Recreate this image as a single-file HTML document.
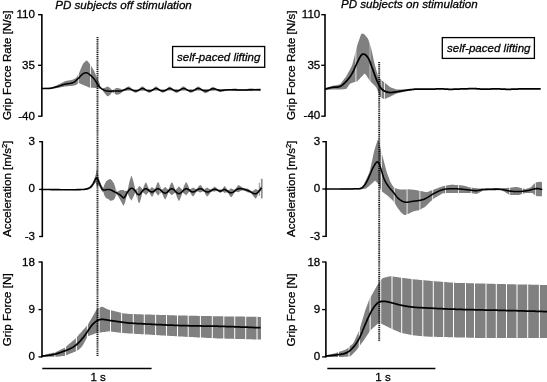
<!DOCTYPE html>
<html><head><meta charset="utf-8"><title>PD subjects grip force</title>
<style>html,body{margin:0;padding:0;background:#fff;}body{width:547px;height:382px;overflow:hidden;font-family:"Liberation Sans",Arial,Helvetica,sans-serif;}svg{display:block}</style>
</head><body>
<svg width="547" height="382" viewBox="0 0 547 382" font-family="'Liberation Sans', Arial, Helvetica, sans-serif" fill="#000">
<text x="55.2" y="8.5" font-size="11.6" text-anchor="start" stroke="#000" stroke-width="0.28" font-style="italic">PD subjects off stimulation</text>
<text x="341" y="8.1" font-size="11.6" text-anchor="start" stroke="#000" stroke-width="0.28" font-style="italic">PD subjects on stimulation</text>
<path d="M42.0,88.0 L43.0,88.0 L44.0,87.9 L45.0,87.8 L46.0,87.8 L47.0,87.8 L48.0,87.7 L49.0,87.6 L50.0,87.6 L51.0,87.3 L52.0,87.0 L53.0,86.7 L54.0,86.4 L55.0,86.1 L56.0,85.8 L57.0,85.3 L58.0,84.8 L59.0,84.3 L60.0,83.8 L61.0,83.2 L62.0,82.7 L63.0,82.2 L64.0,81.7 L65.0,81.2 L66.0,81.0 L67.0,80.8 L68.0,80.6 L69.0,80.4 L70.0,80.2 L71.0,80.0 L72.0,79.8 L73.0,79.6 L74.0,79.1 L75.0,78.5 L76.0,78.0 L77.0,76.5 L78.0,75.0 L79.0,73.2 L80.0,70.8 L81.0,68.3 L82.0,65.9 L83.0,63.8 L84.0,62.8 L85.0,61.8 L86.0,60.8 L87.0,60.6 L88.0,61.7 L89.0,62.8 L90.0,64.2 L91.0,65.8 L92.0,67.5 L93.0,69.1 L94.0,70.7 L95.0,72.9 L96.0,75.4 L97.0,77.9 L98.0,80.3 L99.0,82.1 L100.0,84.0 L100.0,89.5 L99.0,88.0 L98.0,88.0 L97.0,87.9 L96.0,87.9 L95.0,87.9 L94.0,87.8 L93.0,87.8 L92.0,87.7 L91.0,87.7 L90.0,87.6 L89.0,87.4 L88.0,87.0 L87.0,86.6 L86.0,86.1 L85.0,85.7 L84.0,85.3 L83.0,84.8 L82.0,84.4 L81.0,84.0 L80.0,83.6 L79.0,83.1 L78.0,83.5 L77.0,84.3 L76.0,85.0 L75.0,85.3 L74.0,85.5 L73.0,85.8 L72.0,85.9 L71.0,86.0 L70.0,86.1 L69.0,86.1 L68.0,86.2 L67.0,86.3 L66.0,86.4 L65.0,86.5 L64.0,86.6 L63.0,86.9 L62.0,87.1 L61.0,87.3 L60.0,87.5 L59.0,87.7 L58.0,87.9 L57.0,88.1 L56.0,88.3 L55.0,88.4 L54.0,88.5 L53.0,88.6 L52.0,88.8 L51.0,88.9 L50.0,89.0 L49.0,89.0 L48.0,88.9 L47.0,88.8 L46.0,88.8 L45.0,88.8 L44.0,88.7 L43.0,88.6 L42.0,88.6Z" fill="#808080"/>
<path d="M100.0,86.8 L100.5,87.2 L101.0,87.5 L101.5,87.8 L102.0,88.0 L102.5,88.3 L103.0,88.2 L103.5,88.1 L104.0,88.0 L104.5,87.9 L105.0,87.7 L105.5,87.5 L106.0,87.3 L106.5,87.0 L107.0,86.8 L107.5,86.5 L108.0,86.8 L108.5,87.0 L109.0,87.3 L109.5,87.6 L110.0,87.9 L110.5,88.4 L111.0,88.9 L111.5,89.4 L112.0,90.0 L112.5,90.2 L113.0,89.9 L113.5,89.5 L114.0,89.2 L114.5,88.8 L115.0,88.6 L115.5,88.4 L116.0,88.2 L116.5,88.1 L117.0,87.9 L117.5,87.9 L118.0,88.1 L118.5,88.2 L119.0,88.3 L119.5,88.4 L120.0,88.6 L120.5,88.8 L121.0,89.0 L121.5,89.2 L122.0,89.4 L122.5,89.5 L123.0,89.6 L123.5,89.3 L124.0,88.9 L124.5,88.6 L125.0,88.3 L125.5,88.0 L126.0,87.7 L126.5,87.3 L127.0,87.0 L127.5,86.8 L128.0,86.6 L128.5,86.4 L129.0,86.5 L129.5,86.8 L130.0,87.2 L130.5,87.6 L131.0,88.0 L131.5,88.5 L132.0,89.0 L132.5,89.2 L133.0,89.3 L133.5,89.4 L134.0,89.5 L134.5,89.5 L135.0,89.4 L135.5,89.3 L136.0,89.4 L136.5,89.5 L137.0,89.5 L137.5,89.5 L138.0,89.5 L138.5,89.4 L139.0,89.2 L139.5,88.7 L140.0,88.1 L140.5,87.6 L141.0,87.1 L141.5,86.8 L142.0,86.5 L142.5,86.3 L143.0,86.6 L143.5,86.9 L144.0,87.3 L144.5,87.7 L145.0,88.2 L145.5,88.7 L146.0,89.1 L146.5,89.3 L147.0,89.4 L147.5,89.4 L148.0,89.4 L148.5,89.3 L149.0,89.2 L149.5,89.3 L150.0,89.4 L150.5,89.4 L151.0,89.5 L151.5,89.5 L152.0,89.4 L152.5,89.2 L153.0,88.8 L153.5,88.3 L154.0,87.8 L154.5,87.3 L155.0,86.9 L155.5,86.6 L156.0,86.4 L156.5,86.6 L157.0,86.9 L157.5,87.2 L158.0,87.7 L158.5,88.2 L159.0,88.7 L159.5,89.1 L160.0,89.3 L160.5,89.4 L161.0,89.5 L161.5,89.5 L162.0,89.4 L162.5,89.4 L163.0,89.3 L163.5,89.5 L164.0,89.5 L164.5,89.5 L165.0,89.5 L165.5,89.4 L166.0,89.3 L166.5,88.9 L167.0,88.4 L167.5,87.9 L168.0,87.5 L168.5,87.1 L169.0,86.8 L169.5,86.5 L170.0,86.7 L170.5,86.9 L171.0,87.2 L171.5,87.6 L172.0,88.1 L172.5,88.5 L173.0,89.0 L173.5,89.2 L174.0,89.3 L174.5,89.3 L175.0,89.3 L175.5,89.3 L176.0,89.2 L176.5,89.1 L177.0,89.2 L177.5,89.3 L178.0,89.4 L178.5,89.4 L179.0,89.4 L179.5,89.3 L180.0,89.2 L180.5,88.7 L181.0,88.1 L181.5,87.6 L182.0,87.2 L182.5,86.8 L183.0,86.6 L183.5,86.4 L184.0,86.6 L184.5,86.9 L185.0,87.2 L185.5,87.6 L186.0,88.1 L186.5,88.5 L187.0,89.0 L187.5,89.2 L188.0,89.3 L188.5,89.4 L189.0,89.4 L189.5,89.4 L190.0,89.3 L190.5,89.3 L191.0,89.2 L191.5,89.3 L192.0,89.4 L192.5,89.5 L193.0,89.5 L193.5,89.4 L194.0,89.4 L194.5,89.2 L195.0,88.7 L195.5,88.3 L196.0,87.8 L196.5,87.4 L197.0,87.0 L197.5,86.7 L198.0,86.5 L198.5,86.5 L199.0,86.7 L199.5,87.0 L200.0,87.4 L200.5,87.8 L201.0,88.2 L201.5,88.7 L202.0,89.1 L202.5,89.1 L203.0,89.2 L203.5,89.2 L204.0,89.2 L204.5,89.1 L205.0,89.0 L205.5,88.9 L206.0,89.0 L206.5,89.1 L207.0,89.2 L207.5,89.2 L208.0,89.3 L208.5,89.3 L209.0,89.3 L209.5,89.1 L210.0,88.7 L210.5,88.3 L211.0,87.9 L211.5,87.5 L212.0,87.2 L212.5,87.0 L213.0,86.8 L213.5,87.0 L214.0,87.2 L214.5,87.4 L215.0,87.7 L215.5,88.1 L216.0,88.4 L216.5,88.7 L217.0,88.8 L217.5,88.9 L218.0,89.0 L218.5,89.0 L219.0,89.0 L219.5,89.0 L220.0,89.0 L220.5,89.1 L221.0,89.2 L221.5,89.2 L222.0,89.2 L222.5,89.2 L223.0,89.1 L223.5,89.1 L224.0,89.1 L224.5,89.1 L225.0,89.0 L225.5,89.0 L226.0,89.0 L226.5,89.0 L227.0,89.0 L227.5,89.0 L228.0,89.0 L228.5,89.0 L229.0,89.0 L229.5,89.0 L230.0,88.9 L230.5,88.9 L231.0,88.9 L231.5,88.9 L232.0,88.8 L232.5,88.8 L233.0,88.7 L233.5,88.7 L234.0,88.7 L234.5,88.6 L235.0,88.6 L235.5,88.6 L236.0,88.7 L236.5,88.8 L237.0,88.8 L237.5,88.9 L238.0,88.9 L238.5,89.0 L239.0,89.1 L239.5,89.1 L240.0,89.2 L240.5,89.2 L241.0,89.2 L241.5,89.2 L242.0,89.3 L242.5,89.3 L243.0,89.3 L243.5,89.3 L244.0,89.2 L244.5,89.2 L245.0,89.2 L245.5,89.1 L246.0,89.1 L246.5,89.0 L247.0,89.0 L247.5,88.9 L248.0,88.8 L248.5,88.7 L249.0,88.7 L249.5,88.6 L250.0,88.5 L250.5,88.5 L251.0,88.4 L251.5,88.5 L252.0,88.5 L252.5,88.6 L253.0,88.7 L253.5,88.7 L254.0,88.7 L254.5,88.8 L255.0,88.8 L255.5,88.9 L256.0,88.8 L256.5,88.8 L257.0,88.8 L257.5,88.7 L258.0,88.7 L258.5,88.6 L259.0,88.5 L259.5,88.5 L260.0,88.4 L260.5,88.3 L260.5,91.3 L260.0,91.2 L259.5,91.1 L259.0,91.0 L258.5,90.9 L258.0,90.9 L257.5,90.8 L257.0,90.7 L256.5,90.7 L256.0,90.6 L255.5,90.6 L255.0,90.6 L254.5,90.7 L254.0,90.7 L253.5,90.8 L253.0,90.8 L252.5,90.9 L252.0,91.0 L251.5,91.1 L251.0,91.2 L250.5,91.2 L250.0,91.1 L249.5,91.1 L249.0,91.1 L248.5,91.1 L248.0,91.1 L247.5,91.0 L247.0,91.0 L246.5,91.0 L246.0,91.0 L245.5,91.0 L245.0,91.1 L244.5,91.1 L244.0,91.0 L243.5,91.0 L243.0,91.0 L242.5,91.0 L242.0,91.0 L241.5,91.0 L241.0,91.0 L240.5,91.0 L240.0,91.0 L239.5,91.0 L239.0,91.0 L238.5,91.0 L238.0,91.0 L237.5,91.0 L237.0,91.1 L236.5,91.1 L236.0,91.1 L235.5,91.1 L235.0,91.2 L234.5,91.1 L234.0,91.1 L233.5,91.0 L233.0,91.0 L232.5,90.9 L232.0,90.9 L231.5,90.8 L231.0,90.8 L230.5,90.8 L230.0,90.8 L229.5,90.8 L229.0,90.8 L228.5,90.8 L228.0,90.8 L227.5,90.8 L227.0,90.8 L226.5,90.9 L226.0,90.9 L225.5,91.0 L225.0,91.1 L224.5,91.2 L224.0,91.3 L223.5,91.4 L223.0,91.5 L222.5,91.6 L222.0,91.7 L221.5,91.8 L221.0,91.9 L220.5,92.0 L220.0,92.0 L219.5,91.9 L219.0,91.7 L218.5,91.5 L218.0,91.2 L217.5,91.0 L217.0,90.7 L216.5,90.5 L216.0,90.4 L215.5,90.4 L215.0,90.5 L214.5,90.6 L214.0,90.6 L213.5,90.7 L213.0,90.9 L212.5,90.8 L212.0,90.7 L211.5,90.8 L211.0,90.8 L210.5,90.9 L210.0,90.9 L209.5,91.0 L209.0,91.3 L208.5,91.7 L208.0,92.0 L207.5,92.4 L207.0,92.6 L206.5,92.9 L206.0,93.1 L205.5,93.2 L205.0,93.0 L204.5,92.8 L204.0,92.5 L203.5,92.2 L203.0,91.8 L202.5,91.3 L202.0,90.9 L201.5,90.7 L201.0,90.7 L200.5,90.6 L200.0,90.6 L199.5,90.5 L199.0,90.6 L198.5,90.6 L198.0,90.7 L197.5,90.6 L197.0,90.6 L196.5,90.6 L196.0,90.7 L195.5,90.8 L195.0,90.9 L194.5,90.9 L194.0,91.3 L193.5,91.7 L193.0,92.0 L192.5,92.2 L192.0,92.5 L191.5,92.6 L191.0,92.8 L190.5,92.8 L190.0,92.6 L189.5,92.4 L189.0,92.1 L188.5,91.8 L188.0,91.5 L187.5,91.1 L187.0,90.8 L186.5,90.7 L186.0,90.6 L185.5,90.6 L185.0,90.6 L184.5,90.5 L184.0,90.6 L183.5,90.7 L183.0,90.6 L182.5,90.6 L182.0,90.6 L181.5,90.7 L181.0,90.8 L180.5,90.8 L180.0,90.9 L179.5,91.3 L179.0,91.7 L178.5,92.1 L178.0,92.4 L177.5,92.6 L177.0,92.8 L176.5,93.0 L176.0,92.8 L175.5,92.6 L175.0,92.3 L174.5,92.0 L174.0,91.6 L173.5,91.2 L173.0,90.8 L172.5,90.7 L172.0,90.6 L171.5,90.5 L171.0,90.5 L170.5,90.4 L170.0,90.5 L169.5,90.6 L169.0,90.5 L168.5,90.5 L168.0,90.5 L167.5,90.6 L167.0,90.8 L166.5,90.9 L166.0,91.1 L165.5,91.5 L165.0,91.8 L164.5,92.1 L164.0,92.3 L163.5,92.5 L163.0,92.7 L162.5,92.6 L162.0,92.5 L161.5,92.2 L161.0,92.0 L160.5,91.6 L160.0,91.3 L159.5,90.9 L159.0,90.7 L158.5,90.7 L158.0,90.6 L157.5,90.6 L157.0,90.5 L156.5,90.6 L156.0,90.7 L155.5,90.6 L155.0,90.6 L154.5,90.6 L154.0,90.7 L153.5,90.8 L153.0,90.9 L152.5,91.0 L152.0,91.4 L151.5,91.8 L151.0,92.1 L150.5,92.4 L150.0,92.6 L149.5,92.8 L149.0,92.8 L148.5,92.6 L148.0,92.4 L147.5,92.1 L147.0,91.8 L146.5,91.4 L146.0,91.0 L145.5,90.8 L145.0,90.7 L144.5,90.7 L144.0,90.7 L143.5,90.6 L143.0,90.7 L142.5,90.8 L142.0,90.7 L141.5,90.7 L141.0,90.7 L140.5,90.8 L140.0,90.8 L139.5,90.9 L139.0,90.9 L138.5,91.3 L138.0,91.7 L137.5,92.0 L137.0,92.2 L136.5,92.4 L136.0,92.6 L135.5,92.7 L135.0,92.6 L134.5,92.4 L134.0,92.1 L133.5,91.8 L133.0,91.5 L132.5,91.1 L132.0,90.8 L131.5,90.7 L131.0,90.7 L130.5,90.7 L130.0,90.6 L129.5,90.6 L129.0,90.7 L128.5,90.7 L128.0,90.6 L127.5,90.6 L127.0,90.7 L126.5,90.8 L126.0,90.9 L125.5,91.0 L125.0,91.1 L124.5,91.1 L124.0,91.2 L123.5,91.3 L123.0,91.3 L122.5,91.8 L122.0,92.3 L121.5,92.7 L121.0,93.1 L120.5,93.5 L120.0,93.9 L119.5,94.1 L119.0,94.3 L118.5,94.5 L118.0,94.6 L117.5,94.8 L117.0,94.8 L116.5,94.6 L116.0,94.4 L115.5,94.2 L115.0,94.0 L114.5,93.7 L114.0,93.3 L113.5,92.9 L113.0,92.5 L112.5,92.2 L112.0,92.5 L111.5,93.1 L111.0,93.8 L110.5,94.4 L110.0,95.0 L109.5,95.3 L109.0,95.6 L108.5,95.9 L108.0,96.1 L107.5,96.4 L107.0,95.9 L106.5,95.4 L106.0,94.9 L105.5,94.3 L105.0,93.7 L104.5,93.1 L104.0,92.5 L103.5,91.8 L103.0,91.1 L102.5,90.4 L102.0,90.0 L101.5,89.5 L101.0,89.0 L100.5,88.5 L100.0,87.9Z" fill="#808080"/>
<rect x="77.90" y="55" width="0.8" height="45" fill="#fff"/>
<rect x="90.00" y="55" width="0.8" height="45" fill="#fff"/>
<rect x="102.20" y="80" width="0.6" height="20" fill="#fff"/>
<rect x="114.30" y="80" width="0.6" height="20" fill="#fff"/>
<path d="M41.5,88.4 L42.0,88.4 L42.5,88.4 L43.0,88.4 L43.5,88.4 L44.0,88.5 L44.5,88.5 L45.0,88.5 L45.5,88.5 L45.9,88.5 L46.4,88.5 L46.9,88.5 L47.4,88.5 L47.9,88.5 L48.4,88.5 L48.9,88.5 L49.4,88.4 L49.9,88.4 L50.4,88.3 L50.8,88.3 L51.3,88.2 L51.8,88.1 L52.3,88.0 L52.7,87.9 L53.2,87.7 L53.7,87.6 L54.1,87.5 L54.6,87.3 L55.1,87.2 L55.6,87.1 L56.0,86.9 L56.5,86.8 L57.0,86.7 L57.5,86.5 L57.9,86.4 L58.4,86.2 L58.9,86.1 L59.4,85.9 L59.9,85.8 L60.4,85.6 L60.8,85.4 L61.3,85.3 L61.8,85.1 L62.3,85.0 L62.8,84.8 L63.3,84.7 L63.7,84.6 L64.2,84.4 L64.7,84.3 L65.2,84.2 L65.7,84.1 L66.2,84.0 L66.7,83.9 L67.1,83.8 L67.6,83.8 L68.1,83.7 L68.6,83.7 L69.1,83.6 L69.6,83.5 L70.1,83.4 L70.6,83.3 L71.0,83.2 L71.5,83.1 L72.0,83.0 L72.5,82.8 L73.0,82.6 L73.5,82.4 L74.0,82.1 L74.5,81.8 L75.0,81.4 L75.5,81.0 L75.9,80.6 L76.4,80.1 L76.9,79.7 L77.4,79.2 L77.9,78.8 L78.4,78.3 L78.9,77.9 L79.4,77.3 L79.9,76.8 L80.3,76.3 L80.8,75.7 L81.3,75.2 L81.8,74.7 L82.3,74.3 L82.8,73.9 L83.3,73.6 L83.7,73.3 L84.2,73.1 L84.7,72.9 L85.2,72.8 L85.6,72.7 L86.1,72.7 L86.6,72.8 L87.0,72.9 L87.5,73.1 L88.0,73.4 L88.5,73.7 L88.9,74.0 L89.4,74.4 L89.9,74.8 L90.4,75.2 L90.9,75.7 L91.4,76.1 L91.9,76.6 L92.4,77.1 L92.9,77.6 L93.4,78.1 L93.9,78.7 L94.4,79.3 L94.9,79.9 L95.3,80.7 L95.8,81.5 L96.3,82.3 L96.8,83.2 L97.2,83.9 L97.7,84.6 L98.2,85.2 L98.7,85.8 L99.1,86.4 L99.6,86.9 L100.1,87.4 L100.5,87.8 L101.0,88.2 L101.5,88.6 L102.0,88.9 L102.5,89.3 L103.0,89.6 L103.5,89.8 L104.0,90.1 L104.4,90.3 L104.9,90.5 L105.4,90.6 L105.9,90.8 L106.4,90.9 L106.9,91.0 L107.4,91.1 L107.8,91.1 L108.3,91.1 L108.8,91.2 L109.2,91.2 L109.7,91.2 L110.2,91.2 L110.7,91.2 L111.2,91.2 L111.6,91.2 L112.1,91.1 L112.6,91.1 L113.0,91.1 L113.5,91.1 L114.0,91.1 L114.5,91.1 L115.0,91.1 L115.4,91.1 L115.9,91.1 L116.4,91.1 L116.9,91.1 L117.4,91.1 L117.8,91.1 L118.3,91.1 L118.8,91.1 L119.3,91.1 L119.8,91.0 L120.2,91.0 L120.7,91.0 L121.2,90.9 L121.7,90.8 L122.2,90.7 L122.6,90.5 L123.1,90.3 L123.6,90.2 L124.0,90.0 L124.5,89.8 L125.0,89.6 L125.5,89.4 L125.9,89.2 L126.4,89.0 L126.8,88.8 L127.3,88.6 L127.8,88.5 L128.2,88.4 L128.7,88.4 L129.2,88.5 L129.7,88.6 L130.2,88.9 L130.7,89.1 L131.2,89.4 L131.7,89.6 L132.2,89.9 L132.6,90.2 L133.1,90.4 L133.6,90.6 L134.1,90.7 L134.5,90.8 L134.9,90.9 L135.4,90.9 L135.8,90.9 L136.3,90.9 L136.7,90.8 L137.1,90.8 L137.6,90.6 L138.0,90.5 L138.5,90.3 L139.0,90.0 L139.5,89.7 L140.0,89.4 L140.5,89.1 L140.9,88.8 L141.4,88.6 L141.9,88.4 L142.4,88.4 L142.9,88.5 L143.4,88.6 L143.9,88.8 L144.4,89.0 L144.8,89.3 L145.3,89.6 L145.8,89.9 L146.3,90.2 L146.8,90.4 L147.3,90.6 L147.7,90.7 L148.2,90.8 L148.6,90.9 L149.0,90.9 L149.5,90.9 L149.9,90.9 L150.3,90.8 L150.8,90.8 L151.2,90.6 L151.6,90.5 L152.1,90.3 L152.6,90.0 L153.1,89.7 L153.6,89.4 L154.1,89.1 L154.5,88.8 L155.0,88.6 L155.5,88.4 L156.0,88.4 L156.5,88.5 L157.0,88.6 L157.5,88.8 L158.0,89.0 L158.4,89.3 L158.9,89.6 L159.4,89.9 L159.9,90.2 L160.4,90.4 L160.9,90.6 L161.3,90.7 L161.8,90.8 L162.2,90.9 L162.6,90.9 L163.1,90.9 L163.5,90.9 L163.9,90.8 L164.4,90.8 L164.8,90.6 L165.2,90.5 L165.7,90.3 L166.2,90.0 L166.7,89.7 L167.2,89.4 L167.7,89.1 L168.1,88.8 L168.6,88.6 L169.1,88.4 L169.6,88.4 L170.1,88.5 L170.6,88.6 L171.1,88.8 L171.6,89.0 L172.1,89.3 L172.6,89.6 L173.1,89.9 L173.6,90.2 L174.1,90.4 L174.6,90.6 L175.0,90.7 L175.5,90.8 L175.9,90.9 L176.3,90.9 L176.8,90.9 L177.2,90.9 L177.7,90.8 L178.1,90.8 L178.5,90.6 L179.0,90.5 L179.5,90.3 L180.0,90.0 L180.5,89.7 L180.9,89.4 L181.4,89.1 L181.9,88.8 L182.4,88.6 L182.9,88.4 L183.4,88.4 L183.9,88.4 L184.4,88.6 L184.9,88.7 L185.3,88.9 L185.8,89.2 L186.3,89.4 L186.8,89.7 L187.3,90.0 L187.8,90.2 L188.2,90.4 L188.7,90.6 L189.2,90.7 L189.7,90.8 L190.1,90.9 L190.6,90.9 L191.1,90.9 L191.6,90.9 L192.0,90.8 L192.5,90.8 L193.0,90.6 L193.5,90.5 L193.9,90.3 L194.4,90.1 L194.9,89.8 L195.4,89.5 L195.8,89.2 L196.3,89.0 L196.8,88.7 L197.3,88.6 L197.7,88.4 L198.2,88.4 L198.7,88.4 L199.2,88.6 L199.7,88.7 L200.1,88.9 L200.6,89.2 L201.1,89.4 L201.6,89.7 L202.1,90.0 L202.6,90.2 L203.0,90.4 L203.5,90.6 L204.0,90.7 L204.5,90.8 L204.9,90.9 L205.4,90.9 L205.9,90.9 L206.4,90.9 L206.8,90.8 L207.3,90.7 L207.8,90.6 L208.3,90.5 L208.7,90.3 L209.2,90.1 L209.7,89.9 L210.2,89.7 L210.6,89.4 L211.1,89.2 L211.6,89.0 L212.1,88.8 L212.5,88.7 L213.0,88.7 L213.5,88.7 L214.0,88.8 L214.4,88.9 L214.9,89.0 L215.4,89.1 L215.9,89.3 L216.3,89.5 L216.8,89.6 L217.3,89.8 L217.8,90.0 L218.3,90.1 L218.7,90.2 L219.2,90.3 L219.7,90.4 L220.2,90.4 L220.7,90.4 L221.2,90.4 L221.6,90.4 L222.1,90.3 L222.6,90.3 L223.1,90.2 L223.6,90.2 L224.1,90.1 L224.5,90.0 L225.0,90.0 L225.5,89.9 L226.0,89.9 L226.5,89.9 L227.0,89.9 L227.5,89.8 L228.0,89.8 L228.5,89.8 L229.0,89.8 L229.5,89.8 L230.0,89.8 L230.5,89.8 L231.0,89.8 L231.5,89.8 L232.0,89.8 L232.5,89.8 L233.0,89.8 L233.5,89.8 L234.0,89.8 L234.5,89.8 L235.0,89.8 L235.5,89.8 L236.0,89.8 L236.5,89.8 L237.0,89.9 L237.5,89.9 L238.0,89.9 L238.5,89.9 L239.0,90.0 L239.5,90.0 L240.0,90.0 L240.5,90.0 L241.0,90.1 L241.5,90.1 L242.0,90.1 L242.5,90.1 L243.0,90.1 L243.5,90.1 L244.0,90.1 L244.5,90.1 L245.0,90.0 L245.5,90.0 L246.0,90.0 L246.5,90.0 L247.0,89.9 L247.5,89.9 L248.0,89.8 L248.5,89.8 L249.0,89.8 L249.5,89.8 L250.0,89.7 L250.5,89.7 L251.0,89.7 L251.5,89.7 L252.0,89.7 L252.5,89.7 L253.0,89.7 L253.5,89.7 L254.0,89.7 L254.5,89.7 L255.0,89.7 L255.5,89.7 L256.0,89.7 L256.5,89.7 L257.0,89.7 L257.5,89.7 L258.0,89.7 L258.5,89.7 L259.0,89.7 L259.5,89.7 L260.0,89.7 L260.5,89.7" fill="none" stroke="#000" stroke-width="1.5" stroke-linejoin="round" stroke-linecap="butt"/>
<path d="M60.0,189.4 L60.5,189.4 L61.0,189.3 L61.5,189.3 L62.0,189.3 L62.5,189.3 L63.0,189.3 L63.5,189.3 L64.0,189.3 L64.5,189.3 L65.0,189.3 L65.5,189.3 L66.0,189.3 L66.5,189.3 L67.0,189.3 L67.5,189.3 L68.0,189.3 L68.5,189.3 L69.0,189.3 L69.5,189.3 L70.0,189.3 L70.5,189.3 L71.0,189.3 L71.5,189.3 L72.0,189.2 L72.5,189.2 L73.0,189.2 L73.5,189.2 L74.0,189.2 L74.5,189.2 L75.0,189.2 L75.5,189.2 L76.0,189.2 L76.5,189.1 L77.0,189.1 L77.5,189.1 L78.0,189.1 L78.5,189.1 L79.0,189.1 L79.5,189.0 L80.0,189.0 L80.5,189.0 L81.0,189.0 L81.5,189.0 L82.0,189.0 L82.5,188.9 L83.0,188.9 L83.5,188.9 L84.0,188.8 L84.5,188.7 L85.0,188.6 L85.5,188.4 L86.0,188.3 L86.5,188.1 L87.0,187.9 L87.5,187.7 L88.0,187.4 L88.5,187.2 L89.0,186.9 L89.5,186.6 L90.0,186.2 L90.5,185.7 L91.0,185.1 L91.5,184.5 L92.0,183.8 L92.5,183.0 L93.0,182.1 L93.5,181.1 L94.0,179.9 L94.5,178.3 L95.0,176.7 L95.5,175.3 L96.0,173.4 L96.5,170.8 L97.0,168.7 L97.5,171.5 L98.0,174.7 L98.5,177.0 L99.0,178.7 L99.5,180.2 L100.0,181.4 L100.5,182.8 L101.0,184.1 L101.5,185.3 L102.0,186.3 L102.5,187.1 L103.0,187.6 L103.5,187.5 L104.0,185.5 L104.5,184.6 L105.0,183.6 L105.5,182.6 L106.0,181.5 L106.5,181.1 L107.0,180.7 L107.5,180.3 L108.0,179.9 L108.5,179.6 L109.0,179.4 L109.5,179.2 L110.0,179.0 L110.5,178.9 L111.0,179.5 L111.5,180.0 L112.0,180.6 L112.5,181.3 L113.0,181.9 L113.5,182.5 L114.0,183.5 L114.5,184.9 L115.0,186.3 L115.5,187.7 L116.0,189.1 L116.5,190.5 L117.0,191.9 L117.5,191.6 L118.0,191.3 L118.5,191.0 L119.0,190.7 L119.5,190.5 L120.0,190.2 L120.5,190.0 L121.0,189.9 L121.5,189.9 L122.0,190.0 L122.5,190.1 L123.0,190.1 L123.5,189.8 L124.0,190.6 L124.5,190.9 L125.0,191.0 L125.5,190.8 L126.0,190.8 L126.5,190.7 L127.0,190.8 L127.5,190.8 L128.0,188.4 L128.5,186.1 L129.0,183.8 L129.5,181.6 L130.0,179.8 L130.5,178.2 L131.0,176.6 L131.5,175.7 L132.0,177.0 L132.5,178.4 L133.0,180.0 L133.5,181.8 L134.0,184.0 L134.5,186.1 L135.0,188.3 L135.5,189.8 L136.0,189.3 L136.5,189.0 L137.0,188.5 L137.5,188.1 L138.0,187.7 L138.5,187.1 L139.0,186.3 L139.5,186.0 L140.0,186.6 L140.5,187.1 L141.0,187.5 L141.5,188.1 L142.0,188.7 L142.5,189.4 L143.0,188.5 L143.5,187.2 L144.0,185.9 L144.5,184.7 L145.0,183.6 L145.5,182.7 L146.0,182.3 L146.5,183.3 L147.0,184.3 L147.5,185.5 L148.0,186.8 L148.5,188.1 L149.0,189.3 L149.5,189.0 L150.0,188.7 L150.5,188.4 L151.0,188.0 L151.5,187.6 L152.0,187.0 L152.5,187.6 L153.0,188.0 L153.5,188.3 L154.0,188.6 L154.5,188.8 L155.0,189.1 L155.5,187.8 L156.0,186.4 L156.5,185.0 L157.0,183.8 L157.5,182.8 L158.0,181.9 L158.5,182.4 L159.0,183.3 L159.5,184.3 L160.0,185.5 L160.5,186.8 L161.0,188.1 L161.5,189.4 L162.0,189.6 L162.5,189.2 L163.0,188.9 L163.5,188.4 L164.0,188.0 L164.5,187.5 L165.0,187.0 L165.5,187.1 L166.0,187.7 L166.5,188.2 L167.0,188.6 L167.5,189.0 L168.0,189.4 L168.5,189.7 L169.0,188.3 L169.5,186.9 L170.0,185.6 L170.5,184.4 L171.0,183.3 L171.5,182.4 L172.0,182.2 L172.5,183.1 L173.0,184.1 L173.5,185.1 L174.0,186.4 L174.5,187.7 L175.0,189.1 L175.5,189.9 L176.0,189.4 L176.5,188.9 L177.0,188.4 L177.5,187.9 L178.0,187.3 L178.5,186.7 L179.0,186.2 L179.5,187.0 L180.0,187.6 L180.5,188.1 L181.0,188.6 L181.5,189.1 L182.0,189.6 L182.5,190.1 L183.0,188.8 L183.5,187.4 L184.0,186.1 L184.5,185.0 L185.0,183.9 L185.5,182.9 L186.0,182.1 L186.5,182.5 L187.0,183.3 L187.5,184.3 L188.0,185.3 L188.5,186.5 L189.0,187.7 L189.5,189.0 L190.0,189.0 L190.5,188.9 L191.0,188.8 L191.5,188.6 L192.0,188.3 L192.5,187.9 L193.0,187.4 L193.5,187.8 L194.0,188.1 L194.5,188.4 L195.0,188.6 L195.5,188.8 L196.0,188.9 L196.5,189.1 L197.0,188.5 L197.5,187.9 L198.0,187.2 L198.5,186.6 L199.0,186.0 L199.5,185.4 L200.0,184.9 L200.5,185.0 L201.0,185.5 L201.5,186.1 L202.0,186.8 L202.5,187.4 L203.0,188.1 L203.5,188.8 L204.0,189.0 L204.5,188.9 L205.0,188.8 L205.5,188.6 L206.0,188.3 L206.5,188.0 L207.0,187.6 L207.5,187.7 L208.0,188.1 L208.5,188.4 L209.0,188.7 L209.5,189.0 L210.0,189.2 L210.5,189.3 L211.0,189.5 L211.5,189.1 L212.0,188.7 L212.5,188.3 L213.0,187.9 L213.5,187.5 L214.0,187.1 L214.5,186.7 L215.0,186.8 L215.5,187.2 L216.0,187.7 L216.5,188.1 L217.0,188.5 L217.5,188.9 L218.0,189.2 L218.5,189.4 L219.0,189.6 L219.5,189.5 L220.0,189.4 L220.5,189.3 L221.0,189.5 L221.5,189.6 L222.0,189.4 L222.5,189.0 L223.0,188.2 L223.5,187.4 L224.0,186.6 L224.5,185.9 L225.0,186.4 L225.5,187.1 L226.0,187.7 L226.5,188.4 L227.0,189.0 L227.5,189.7 L228.0,190.1 L228.5,189.9 L229.0,189.7 L229.5,189.5 L230.0,189.2 L230.5,188.8 L231.0,188.3 L231.5,188.5 L232.0,188.9 L232.5,189.1 L233.0,189.3 L233.5,189.4 L234.0,189.5 L234.5,189.6 L235.0,189.4 L235.5,188.7 L236.0,188.0 L236.5,187.4 L237.0,186.8 L237.5,186.1 L238.0,185.6 L238.5,185.1 L239.0,185.3 L239.5,185.6 L240.0,185.9 L240.5,186.2 L241.0,186.6 L241.5,186.8 L242.0,187.2 L242.5,187.5 L243.0,187.8 L243.5,188.0 L244.0,188.1 L244.5,188.2 L245.0,188.4 L245.5,188.5 L246.0,188.4 L246.5,188.4 L247.0,188.4 L247.5,188.4 L248.0,188.7 L248.5,189.1 L249.0,189.5 L249.5,189.9 L250.0,190.3 L250.5,190.6 L251.0,190.9 L251.5,191.2 L252.0,191.2 L252.5,191.0 L253.0,190.8 L253.5,190.5 L254.0,190.2 L254.5,189.9 L255.0,189.5 L255.5,189.0 L256.0,188.9 L256.5,189.3 L257.0,189.7 L257.5,189.9 L258.0,190.1 L258.5,190.2 L259.0,189.7 L259.5,188.8 L260.0,188.0 L260.5,187.0 L261.0,186.0 L261.5,185.1 L261.5,190.9 L261.0,191.1 L260.5,191.3 L260.0,191.6 L259.5,192.0 L259.0,192.4 L258.5,193.1 L258.0,194.3 L257.5,195.5 L257.0,196.5 L256.5,197.5 L256.0,198.4 L255.5,198.5 L255.0,198.0 L254.5,197.5 L254.0,196.9 L253.5,196.3 L253.0,195.6 L252.5,194.9 L252.0,194.2 L251.5,193.6 L251.0,193.3 L250.5,193.0 L250.0,192.8 L249.5,192.5 L249.0,192.5 L248.5,192.4 L248.0,192.4 L247.5,192.3 L247.0,192.0 L246.5,191.7 L246.0,191.4 L245.5,191.1 L245.0,190.8 L244.5,190.7 L244.0,190.5 L243.5,190.4 L243.0,190.3 L242.5,190.4 L242.0,190.5 L241.5,190.6 L241.0,190.8 L240.5,191.0 L240.0,191.3 L239.5,191.6 L239.0,191.9 L238.5,192.3 L238.0,192.0 L237.5,191.9 L237.0,191.8 L236.5,191.7 L236.0,191.8 L235.5,191.9 L235.0,192.0 L234.5,192.5 L234.0,193.4 L233.5,194.2 L233.0,194.9 L232.5,195.7 L232.0,196.4 L231.5,197.0 L231.0,197.3 L230.5,196.7 L230.0,196.0 L229.5,195.3 L229.0,194.5 L228.5,193.7 L228.0,192.9 L227.5,192.5 L227.0,192.4 L226.5,192.4 L226.0,192.4 L225.5,192.6 L225.0,192.8 L224.5,193.1 L224.0,192.5 L223.5,191.9 L223.0,191.7 L222.5,191.5 L222.0,191.8 L221.5,192.1 L221.0,192.6 L220.5,193.1 L220.0,192.9 L219.5,192.6 L219.0,192.1 L218.5,191.9 L218.0,191.6 L217.5,191.3 L217.0,191.2 L216.5,191.1 L216.0,191.1 L215.5,191.3 L215.0,191.6 L214.5,191.7 L214.0,191.5 L213.5,191.4 L213.0,191.3 L212.5,191.4 L212.0,191.5 L211.5,191.7 L211.0,191.9 L210.5,192.5 L210.0,193.2 L209.5,193.9 L209.0,194.6 L208.5,195.2 L208.0,195.8 L207.5,196.3 L207.0,196.4 L206.5,195.8 L206.0,195.1 L205.5,194.4 L205.0,193.6 L204.5,192.8 L204.0,192.0 L203.5,191.5 L203.0,191.6 L202.5,191.6 L202.0,191.7 L201.5,191.9 L201.0,192.1 L200.5,192.5 L200.0,192.5 L199.5,192.2 L199.0,191.9 L198.5,191.7 L198.0,191.6 L197.5,191.5 L197.0,191.5 L196.5,191.6 L196.0,192.4 L195.5,193.2 L195.0,194.0 L194.5,194.7 L194.0,195.4 L193.5,196.0 L193.0,196.6 L192.5,196.1 L192.0,195.4 L191.5,194.7 L191.0,194.0 L190.5,193.1 L190.0,192.3 L189.5,191.6 L189.0,192.1 L188.5,192.6 L188.0,193.1 L187.5,193.7 L187.0,194.2 L186.5,194.9 L186.0,195.4 L185.5,194.8 L185.0,194.3 L184.5,194.0 L184.0,193.6 L183.5,193.2 L183.0,192.8 L182.5,192.5 L182.0,194.0 L181.5,195.4 L181.0,196.8 L180.5,198.1 L180.0,199.2 L179.5,200.2 L179.0,201.1 L178.5,200.6 L178.0,199.6 L177.5,198.5 L177.0,197.3 L176.5,195.9 L176.0,194.4 L175.5,192.9 L175.0,192.7 L174.5,193.0 L174.0,193.4 L173.5,193.8 L173.0,194.2 L172.5,194.7 L172.0,195.2 L171.5,195.1 L171.0,194.4 L170.5,193.9 L170.0,193.4 L169.5,193.0 L169.0,192.5 L168.5,192.1 L168.0,193.5 L167.5,194.8 L167.0,196.1 L166.5,197.3 L166.0,198.3 L165.5,199.2 L165.0,199.4 L164.5,198.6 L164.0,197.7 L163.5,196.7 L163.0,195.6 L162.5,194.4 L162.0,193.1 L161.5,192.4 L161.0,192.8 L160.5,193.2 L160.0,193.7 L159.5,194.1 L159.0,194.6 L158.5,195.2 L158.0,195.5 L157.5,194.7 L157.0,194.0 L156.5,193.4 L156.0,192.7 L155.5,192.0 L155.0,191.6 L154.5,192.6 L154.0,193.6 L153.5,194.6 L153.0,195.5 L152.5,196.3 L152.0,197.0 L151.5,196.3 L151.0,195.5 L150.5,194.7 L150.0,193.8 L149.5,192.8 L149.0,191.8 L148.5,192.2 L148.0,192.8 L147.5,193.4 L147.0,193.9 L146.5,194.5 L146.0,195.2 L145.5,194.7 L145.0,194.1 L144.5,193.6 L144.0,193.2 L143.5,192.7 L143.0,192.3 L142.5,192.4 L142.0,194.3 L141.5,196.3 L141.0,198.4 L140.5,200.1 L140.0,201.7 L139.5,203.1 L139.0,203.2 L138.5,202.3 L138.0,201.2 L137.5,199.9 L137.0,198.3 L136.5,196.5 L136.0,194.6 L135.5,192.8 L135.0,193.1 L134.5,194.3 L134.0,195.5 L133.5,196.7 L133.0,197.6 L132.5,198.4 L132.0,199.5 L131.5,200.7 L131.0,200.1 L130.5,199.2 L130.0,198.4 L129.5,197.7 L129.0,196.6 L128.5,195.6 L128.0,194.5 L127.5,193.5 L127.0,194.9 L126.5,196.7 L126.0,198.7 L125.5,200.7 L125.0,202.4 L124.5,203.8 L124.0,205.0 L123.5,205.8 L123.0,205.1 L122.5,204.2 L122.0,203.2 L121.5,202.2 L121.0,201.2 L120.5,200.4 L120.0,199.5 L119.5,198.6 L119.0,197.8 L118.5,196.9 L118.0,196.0 L117.5,195.2 L117.0,194.3 L116.5,195.2 L116.0,196.1 L115.5,197.0 L115.0,197.8 L114.5,198.7 L114.0,199.6 L113.5,200.1 L113.0,200.2 L112.5,200.3 L112.0,200.4 L111.5,200.6 L111.0,200.7 L110.5,200.9 L110.0,200.4 L109.5,200.0 L109.0,199.6 L108.5,199.2 L108.0,198.9 L107.5,198.7 L107.0,198.5 L106.5,198.3 L106.0,198.1 L105.5,197.3 L105.0,196.4 L104.5,195.5 L104.0,194.5 L103.5,192.3 L103.0,191.9 L102.5,191.7 L102.0,191.3 L101.5,190.6 L101.0,189.6 L100.5,188.6 L100.0,187.6 L99.5,186.6 L99.0,186.1 L98.5,185.4 L98.0,185.3 L97.5,186.4 L97.0,187.7 L96.5,185.2 L96.0,183.2 L95.5,182.7 L95.0,183.1 L94.5,183.7 L94.0,184.3 L93.5,185.3 L93.0,186.1 L92.5,186.7 L92.0,187.3 L91.5,187.8 L91.0,188.2 L90.5,188.5 L90.0,188.8 L89.5,189.1 L89.0,189.3 L88.5,189.4 L88.0,189.6 L87.5,189.7 L87.0,189.8 L86.5,189.9 L86.0,189.9 L85.5,190.0 L85.0,190.0 L84.5,190.0 L84.0,190.0 L83.5,190.1 L83.0,190.1 L82.5,190.1 L82.0,190.1 L81.5,190.1 L81.0,190.1 L80.5,190.1 L80.0,190.1 L79.5,190.1 L79.0,190.1 L78.5,190.1 L78.0,190.2 L77.5,190.2 L77.0,190.2 L76.5,190.2 L76.0,190.2 L75.5,190.2 L75.0,190.2 L74.5,190.2 L74.0,190.2 L73.5,190.2 L73.0,190.2 L72.5,190.2 L72.0,190.1 L71.5,190.1 L71.0,190.1 L70.5,190.1 L70.0,190.1 L69.5,190.1 L69.0,190.1 L68.5,190.1 L68.0,190.1 L67.5,190.1 L67.0,190.1 L66.5,190.1 L66.0,190.1 L65.5,190.1 L65.0,190.1 L64.5,190.0 L64.0,190.0 L63.5,190.0 L63.0,190.0 L62.5,190.0 L62.0,190.0 L61.5,190.0 L61.0,190.0 L60.5,190.0 L60.0,190.0Z" fill="#808080"/>
<rect x="260.9" y="178.8" width="1.7" height="19.6" fill="#8c8c8c"/>
<rect x="258.8" y="182.7" width="1.1" height="13" fill="#9a9a9a"/>
<rect x="115.70" y="165" width="0.6" height="47" fill="#fff"/>
<rect x="136.90" y="165" width="0.6" height="47" fill="#fff"/>
<rect x="159.70" y="165" width="0.6" height="47" fill="#fff"/>
<rect x="182.00" y="165" width="0.6" height="47" fill="#fff"/>
<rect x="204.20" y="165" width="0.6" height="47" fill="#fff"/>
<path d="M41.5,189.5 L42.0,189.5 L42.5,189.5 L43.0,189.5 L43.5,189.5 L44.0,189.5 L44.5,189.5 L45.0,189.5 L45.5,189.5 L46.0,189.5 L46.5,189.5 L47.0,189.5 L47.5,189.5 L48.0,189.5 L48.5,189.5 L49.0,189.5 L49.5,189.5 L50.0,189.5 L50.5,189.6 L51.0,189.6 L51.5,189.6 L51.9,189.6 L52.4,189.6 L52.9,189.6 L53.4,189.6 L53.9,189.6 L54.4,189.6 L54.9,189.6 L55.4,189.6 L55.9,189.6 L56.4,189.6 L56.9,189.6 L57.4,189.6 L57.9,189.6 L58.4,189.6 L58.9,189.6 L59.4,189.6 L59.9,189.7 L60.4,189.7 L60.9,189.7 L61.4,189.7 L61.9,189.7 L62.4,189.7 L62.9,189.7 L63.4,189.7 L63.9,189.7 L64.4,189.7 L64.9,189.7 L65.4,189.7 L65.9,189.7 L66.4,189.7 L66.9,189.7 L67.4,189.7 L67.9,189.7 L68.4,189.7 L68.9,189.7 L69.4,189.7 L69.9,189.7 L70.4,189.7 L70.9,189.7 L71.4,189.7 L71.9,189.7 L72.4,189.7 L72.8,189.7 L73.3,189.7 L73.8,189.7 L74.3,189.7 L74.8,189.7 L75.3,189.7 L75.8,189.7 L76.3,189.7 L76.8,189.6 L77.3,189.6 L77.8,189.6 L78.3,189.6 L78.8,189.6 L79.3,189.6 L79.8,189.6 L80.3,189.6 L80.8,189.6 L81.3,189.5 L81.8,189.5 L82.3,189.5 L82.8,189.5 L83.3,189.5 L83.7,189.4 L84.2,189.4 L84.7,189.3 L85.2,189.3 L85.6,189.2 L86.1,189.1 L86.6,189.0 L87.0,188.8 L87.5,188.7 L88.0,188.5 L88.5,188.3 L88.9,188.1 L89.4,187.9 L89.9,187.6 L90.3,187.3 L90.8,186.9 L91.3,186.4 L91.8,185.8 L92.2,185.2 L92.7,184.6 L93.2,183.8 L93.7,182.9 L94.1,181.8 L94.6,180.8 L95.1,179.8 L95.5,178.9 L96.0,178.3 L96.5,178.0 L97.0,178.2 L97.4,178.8 L97.9,179.8 L98.4,180.9 L98.8,182.0 L99.3,183.0 L99.8,184.0 L100.2,185.1 L100.7,186.2 L101.2,187.3 L101.7,188.3 L102.1,189.0 L102.6,189.5 L103.1,189.8 L103.5,189.9 L104.0,190.0 L104.5,190.0 L105.0,190.0 L105.4,189.9 L105.9,189.9 L106.4,189.7 L106.8,189.6 L107.3,189.5 L107.8,189.5 L108.3,189.4 L108.7,189.4 L109.2,189.5 L109.7,189.6 L110.1,189.8 L110.6,189.9 L111.1,190.1 L111.6,190.3 L112.0,190.5 L112.5,190.8 L113.0,191.0 L113.4,191.3 L113.9,191.5 L114.4,191.8 L114.9,192.0 L115.3,192.3 L115.8,192.5 L116.3,192.8 L116.8,193.0 L117.3,193.3 L117.8,193.5 L118.2,193.8 L118.7,194.1 L119.2,194.4 L119.7,194.7 L120.2,195.0 L120.7,195.3 L121.2,195.7 L121.6,196.2 L122.1,196.7 L122.6,197.2 L123.1,197.6 L123.5,197.9 L124.0,197.8 L124.5,197.4 L124.9,196.8 L125.4,195.9 L125.9,195.0 L126.4,194.0 L126.8,193.1 L127.3,192.4 L127.8,191.8 L128.2,191.2 L128.7,190.6 L129.1,190.0 L129.6,189.5 L130.0,189.1 L130.5,188.7 L130.9,188.4 L131.4,188.2 L131.9,188.2 L132.3,188.3 L132.8,188.6 L133.3,189.0 L133.8,189.5 L134.2,190.0 L134.7,190.4 L135.2,190.9 L135.6,191.4 L136.1,192.1 L136.5,192.7 L137.0,193.4 L137.4,193.9 L137.9,194.4 L138.3,194.7 L138.8,194.8 L139.3,194.7 L139.7,194.4 L140.2,193.9 L140.7,193.4 L141.1,192.7 L141.6,192.1 L142.1,191.4 L142.5,190.9 L143.0,190.4 L143.5,190.0 L144.0,189.6 L144.4,189.2 L144.9,188.9 L145.4,188.7 L145.9,188.7 L146.4,188.8 L146.8,189.0 L147.3,189.3 L147.8,189.6 L148.2,189.9 L148.7,190.3 L149.2,190.7 L149.7,191.0 L150.1,191.3 L150.6,191.6 L151.1,191.8 L151.5,192.0 L152.0,192.0 L152.5,191.9 L152.9,191.8 L153.4,191.5 L153.9,191.2 L154.3,190.9 L154.8,190.5 L155.3,190.1 L155.8,189.7 L156.2,189.4 L156.7,189.1 L157.2,188.8 L157.6,188.7 L158.1,188.7 L158.6,188.8 L159.0,189.0 L159.5,189.3 L160.0,189.6 L160.5,190.0 L160.9,190.4 L161.4,190.8 L161.9,191.2 L162.4,191.7 L162.8,192.1 L163.3,192.4 L163.8,192.8 L164.3,193.0 L164.7,193.1 L165.2,193.2 L165.7,193.1 L166.1,192.9 L166.6,192.7 L167.1,192.3 L167.6,191.9 L168.0,191.4 L168.5,190.9 L169.0,190.4 L169.4,190.0 L169.9,189.6 L170.4,189.2 L170.9,188.9 L171.3,188.8 L171.8,188.7 L172.3,188.8 L172.7,189.0 L173.2,189.3 L173.7,189.6 L174.2,190.0 L174.6,190.5 L175.1,191.0 L175.6,191.5 L176.1,192.0 L176.5,192.4 L177.0,192.8 L177.5,193.2 L178.0,193.5 L178.4,193.6 L178.9,193.7 L179.4,193.6 L179.9,193.5 L180.3,193.2 L180.8,192.9 L181.3,192.5 L181.8,192.0 L182.3,191.6 L182.7,191.1 L183.2,190.6 L183.7,190.1 L184.2,189.7 L184.7,189.3 L185.1,189.0 L185.6,188.8 L186.1,188.7 L186.6,188.7 L187.1,188.8 L187.5,189.0 L188.0,189.2 L188.5,189.5 L189.0,189.9 L189.4,190.2 L189.9,190.6 L190.4,191.0 L190.9,191.3 L191.4,191.6 L191.8,191.8 L192.3,191.9 L192.8,192.0 L193.3,192.0 L193.8,191.8 L194.3,191.7 L194.8,191.4 L195.3,191.1 L195.8,190.8 L196.3,190.5 L196.7,190.2 L197.2,189.9 L197.7,189.6 L198.2,189.3 L198.7,189.0 L199.2,188.9 L199.7,188.7 L200.2,188.7 L200.7,188.7 L201.2,188.9 L201.7,189.1 L202.2,189.3 L202.7,189.6 L203.2,190.0 L203.7,190.3 L204.2,190.7 L204.7,191.0 L205.2,191.3 L205.7,191.6 L206.2,191.8 L206.7,191.9 L207.2,192.0 L207.7,192.0 L208.2,191.9 L208.7,191.8 L209.2,191.6 L209.7,191.3 L210.2,191.1 L210.7,190.8 L211.2,190.6 L211.7,190.3 L212.2,190.0 L212.7,189.8 L213.2,189.6 L213.7,189.4 L214.2,189.3 L214.7,189.2 L215.2,189.2 L215.6,189.3 L216.1,189.5 L216.6,189.7 L217.1,189.9 L217.6,190.1 L218.0,190.4 L218.5,190.6 L219.0,190.8 L219.4,191.0 L219.9,191.1 L220.4,191.2 L220.9,191.1 L221.3,191.0 L221.8,190.7 L222.2,190.4 L222.7,190.1 L223.1,189.9 L223.6,189.6 L224.0,189.5 L224.5,189.5 L225.0,189.6 L225.4,189.8 L225.9,190.0 L226.4,190.3 L226.9,190.6 L227.3,191.0 L227.8,191.3 L228.3,191.7 L228.7,192.0 L229.2,192.3 L229.7,192.5 L230.2,192.7 L230.6,192.8 L231.1,192.8 L231.6,192.7 L232.1,192.6 L232.6,192.4 L233.1,192.1 L233.6,191.8 L234.1,191.4 L234.6,191.0 L235.0,190.6 L235.5,190.3 L236.0,189.9 L236.5,189.6 L237.0,189.3 L237.5,189.0 L238.0,188.8 L238.5,188.7 L239.0,188.6 L239.5,188.6 L239.9,188.6 L240.4,188.6 L240.9,188.7 L241.4,188.7 L241.9,188.8 L242.3,188.9 L242.8,189.0 L243.3,189.1 L243.8,189.2 L244.2,189.4 L244.7,189.5 L245.2,189.7 L245.7,189.8 L246.2,190.0 L246.6,190.1 L247.1,190.3 L247.6,190.4 L248.1,190.6 L248.6,190.8 L249.0,191.0 L249.5,191.3 L250.0,191.5 L250.5,191.8 L251.0,192.1 L251.5,192.4 L251.9,192.7 L252.4,192.9 L252.9,193.2 L253.4,193.4 L253.9,193.5 L254.4,193.7 L254.8,193.7 L255.3,193.8 L255.8,193.7 L256.3,193.6 L256.8,193.3 L257.2,192.9 L257.7,192.5 L258.2,192.0 L258.7,191.4 L259.2,190.8 L259.7,190.2 L260.2,189.6 L260.6,189.0 L261.1,188.4 L261.6,187.9" fill="none" stroke="#000" stroke-width="1.55" stroke-linejoin="round" stroke-linecap="butt"/>
<path d="M42.0,355.5 L43.0,355.3 L44.0,355.0 L45.0,354.8 L46.0,354.5 L47.0,354.3 L48.0,354.0 L49.0,353.8 L50.0,353.5 L51.0,353.3 L52.0,353.0 L53.0,352.8 L54.0,352.5 L55.0,352.3 L56.0,352.0 L57.0,351.6 L58.0,351.1 L59.0,350.6 L60.0,350.1 L61.0,349.6 L62.0,349.1 L63.0,348.6 L64.0,348.2 L65.0,347.5 L66.0,346.7 L67.0,345.8 L68.0,345.0 L69.0,344.1 L70.0,343.3 L71.0,342.4 L72.0,341.6 L73.0,340.7 L74.0,339.9 L75.0,339.0 L76.0,338.0 L77.0,336.9 L78.0,335.8 L79.0,334.6 L80.0,333.5 L81.0,332.4 L82.0,331.2 L83.0,330.1 L84.0,329.0 L85.0,327.9 L86.0,326.7 L87.0,325.6 L88.0,324.4 L89.0,322.6 L90.0,320.9 L91.0,319.2 L92.0,317.4 L93.0,315.7 L94.0,314.0 L95.0,312.2 L96.0,310.5 L97.0,309.0 L98.0,308.5 L99.0,308.0 L100.0,307.5 L101.0,307.0 L102.0,306.7 L103.0,307.1 L104.0,307.6 L105.0,308.0 L106.0,308.5 L107.0,308.9 L108.0,309.4 L109.0,309.8 L110.0,310.1 L111.0,310.3 L112.0,310.6 L113.0,310.8 L114.0,311.1 L115.0,311.3 L116.0,311.6 L117.0,311.8 L118.0,312.1 L119.0,312.3 L120.0,312.6 L121.0,312.8 L122.0,313.1 L123.0,313.3 L124.0,313.4 L125.0,313.5 L126.0,313.6 L127.0,313.7 L128.0,313.8 L129.0,313.9 L130.0,314.0 L131.0,314.0 L132.0,314.1 L133.0,314.1 L134.0,314.1 L135.0,314.1 L136.0,314.2 L137.0,314.2 L138.0,314.2 L139.0,314.3 L140.0,314.3 L141.0,314.3 L142.0,314.4 L143.0,314.4 L144.0,314.4 L145.0,314.4 L146.0,314.5 L147.0,314.5 L148.0,314.5 L149.0,314.6 L150.0,314.6 L151.0,314.6 L152.0,314.7 L153.0,314.7 L154.0,314.7 L155.0,314.8 L156.0,314.8 L157.0,314.8 L158.0,314.8 L159.0,314.9 L160.0,314.9 L161.0,314.9 L162.0,315.0 L163.0,315.0 L164.0,315.0 L165.0,315.1 L166.0,315.1 L167.0,315.1 L168.0,315.1 L169.0,315.2 L170.0,315.2 L171.0,315.2 L172.0,315.3 L173.0,315.3 L174.0,315.3 L175.0,315.4 L176.0,315.4 L177.0,315.4 L178.0,315.4 L179.0,315.5 L180.0,315.5 L181.0,315.5 L182.0,315.5 L183.0,315.6 L184.0,315.6 L185.0,315.6 L186.0,315.6 L187.0,315.6 L188.0,315.7 L189.0,315.7 L190.0,315.7 L191.0,315.7 L192.0,315.7 L193.0,315.8 L194.0,315.8 L195.0,315.8 L196.0,315.8 L197.0,315.8 L198.0,315.9 L199.0,315.9 L200.0,315.9 L201.0,315.9 L202.0,315.9 L203.0,316.0 L204.0,316.0 L205.0,316.0 L206.0,316.0 L207.0,316.0 L208.0,316.1 L209.0,316.1 L210.0,316.1 L211.0,316.1 L212.0,316.1 L213.0,316.2 L214.0,316.2 L215.0,316.2 L216.0,316.2 L217.0,316.2 L218.0,316.3 L219.0,316.3 L220.0,316.3 L221.0,316.3 L222.0,316.3 L223.0,316.3 L224.0,316.4 L225.0,316.4 L226.0,316.4 L227.0,316.4 L228.0,316.4 L229.0,316.4 L230.0,316.4 L231.0,316.5 L232.0,316.5 L233.0,316.5 L234.0,316.5 L235.0,316.5 L236.0,316.5 L237.0,316.5 L238.0,316.6 L239.0,316.6 L240.0,316.6 L241.0,316.6 L242.0,316.6 L243.0,316.6 L244.0,316.6 L245.0,316.7 L246.0,316.7 L247.0,316.7 L248.0,316.7 L249.0,316.7 L250.0,316.7 L251.0,316.7 L252.0,316.8 L253.0,316.8 L254.0,316.8 L255.0,316.8 L256.0,316.8 L257.0,316.8 L258.0,316.8 L259.0,316.9 L260.0,316.9 L261.0,316.9 L261.0,339.6 L260.0,339.6 L259.0,339.5 L258.0,339.5 L257.0,339.5 L256.0,339.5 L255.0,339.4 L254.0,339.4 L253.0,339.4 L252.0,339.3 L251.0,339.3 L250.0,339.3 L249.0,339.3 L248.0,339.2 L247.0,339.2 L246.0,339.2 L245.0,339.2 L244.0,339.1 L243.0,339.1 L242.0,339.1 L241.0,339.1 L240.0,339.0 L239.0,339.0 L238.0,339.0 L237.0,338.9 L236.0,338.9 L235.0,338.9 L234.0,338.9 L233.0,338.8 L232.0,338.8 L231.0,338.8 L230.0,338.8 L229.0,338.7 L228.0,338.7 L227.0,338.7 L226.0,338.7 L225.0,338.6 L224.0,338.6 L223.0,338.6 L222.0,338.6 L221.0,338.5 L220.0,338.5 L219.0,338.4 L218.0,338.4 L217.0,338.4 L216.0,338.3 L215.0,338.2 L214.0,338.2 L213.0,338.1 L212.0,338.1 L211.0,338.1 L210.0,338.0 L209.0,337.9 L208.0,337.9 L207.0,337.9 L206.0,337.8 L205.0,337.8 L204.0,337.7 L203.0,337.6 L202.0,337.6 L201.0,337.6 L200.0,337.5 L199.0,337.4 L198.0,337.4 L197.0,337.4 L196.0,337.3 L195.0,337.2 L194.0,337.2 L193.0,337.1 L192.0,337.1 L191.0,337.1 L190.0,337.0 L189.0,336.9 L188.0,336.9 L187.0,336.9 L186.0,336.8 L185.0,336.8 L184.0,336.7 L183.0,336.6 L182.0,336.6 L181.0,336.6 L180.0,336.5 L179.0,336.4 L178.0,336.4 L177.0,336.3 L176.0,336.3 L175.0,336.2 L174.0,336.1 L173.0,336.1 L172.0,336.0 L171.0,336.0 L170.0,335.9 L169.0,335.8 L168.0,335.8 L167.0,335.7 L166.0,335.7 L165.0,335.6 L164.0,335.5 L163.0,335.5 L162.0,335.4 L161.0,335.4 L160.0,335.3 L159.0,335.2 L158.0,335.2 L157.0,335.1 L156.0,335.1 L155.0,335.0 L154.0,334.9 L153.0,334.9 L152.0,334.8 L151.0,334.8 L150.0,334.7 L149.0,334.6 L148.0,334.6 L147.0,334.5 L146.0,334.5 L145.0,334.4 L144.0,334.3 L143.0,334.3 L142.0,334.2 L141.0,334.2 L140.0,334.1 L139.0,334.0 L138.0,334.0 L137.0,333.9 L136.0,333.9 L135.0,333.8 L134.0,333.7 L133.0,333.7 L132.0,333.6 L131.0,333.6 L130.0,333.5 L129.0,333.4 L128.0,333.4 L127.0,333.3 L126.0,333.2 L125.0,333.2 L124.0,333.1 L123.0,333.0 L122.0,332.9 L121.0,332.8 L120.0,332.7 L119.0,332.6 L118.0,332.4 L117.0,332.3 L116.0,332.2 L115.0,332.0 L114.0,331.9 L113.0,331.8 L112.0,331.7 L111.0,331.5 L110.0,331.4 L109.0,331.3 L108.0,331.5 L107.0,331.6 L106.0,331.7 L105.0,331.9 L104.0,332.0 L103.0,332.1 L102.0,332.3 L101.0,332.4 L100.0,332.6 L99.0,332.7 L98.0,332.8 L97.0,333.0 L96.0,333.3 L95.0,333.6 L94.0,334.0 L93.0,334.4 L92.0,334.7 L91.0,335.1 L90.0,335.4 L89.0,335.8 L88.0,336.1 L87.0,337.6 L86.0,339.5 L85.0,341.3 L84.0,343.1 L83.0,344.9 L82.0,346.6 L81.0,347.6 L80.0,348.5 L79.0,349.5 L78.0,350.1 L77.0,350.7 L76.0,351.2 L75.0,351.8 L74.0,352.1 L73.0,352.5 L72.0,352.9 L71.0,353.3 L70.0,353.7 L69.0,354.1 L68.0,354.5 L67.0,354.9 L66.0,355.3 L65.0,355.7 L64.0,355.9 L63.0,356.0 L62.0,356.1 L61.0,356.3 L60.0,356.4 L59.0,356.5 L58.0,356.6 L57.0,356.7 L56.0,356.8 L55.0,356.8 L54.0,356.8 L53.0,356.8 L52.0,356.8 L51.0,356.8 L50.0,356.8 L49.0,356.8 L48.0,356.8 L47.0,356.8 L46.0,356.8 L45.0,356.8 L44.0,356.8 L43.0,356.8 L42.0,356.8Z" fill="#808080"/>
<rect x="54.30" y="300" width="1.0" height="58" fill="#fff"/>
<rect x="65.10" y="300" width="1.0" height="58" fill="#fff"/>
<rect x="75.90" y="300" width="1.0" height="58" fill="#fff"/>
<rect x="86.90" y="300" width="1.0" height="58" fill="#fff"/>
<rect x="98.50" y="300" width="1.0" height="58" fill="#fff"/>
<rect x="110.00" y="300" width="1.0" height="58" fill="#fff"/>
<rect x="121.10" y="300" width="1.0" height="58" fill="#fff"/>
<rect x="132.80" y="300" width="1.0" height="58" fill="#fff"/>
<rect x="143.80" y="300" width="1.0" height="58" fill="#fff"/>
<rect x="155.10" y="300" width="1.0" height="58" fill="#fff"/>
<rect x="166.00" y="300" width="1.0" height="58" fill="#fff"/>
<rect x="177.00" y="300" width="1.0" height="58" fill="#fff"/>
<rect x="187.70" y="300" width="1.0" height="58" fill="#fff"/>
<rect x="199.90" y="300" width="1.0" height="58" fill="#fff"/>
<rect x="211.80" y="300" width="1.0" height="58" fill="#fff"/>
<rect x="223.30" y="300" width="1.0" height="58" fill="#fff"/>
<rect x="234.20" y="300" width="1.0" height="58" fill="#fff"/>
<rect x="245.20" y="300" width="1.0" height="58" fill="#fff"/>
<rect x="256.50" y="300" width="1.0" height="58" fill="#fff"/>
<path d="M41.6,356.2 L42.1,356.1 L42.6,356.1 L43.1,356.0 L43.6,355.9 L44.1,355.9 L44.5,355.8 L45.0,355.8 L45.5,355.7 L46.0,355.6 L46.5,355.6 L47.0,355.5 L47.5,355.4 L48.0,355.4 L48.5,355.3 L49.0,355.2 L49.5,355.2 L50.0,355.1 L50.5,355.0 L51.0,355.0 L51.5,354.9 L52.0,354.8 L52.5,354.7 L53.0,354.6 L53.5,354.5 L54.0,354.4 L54.5,354.3 L55.0,354.1 L55.5,354.0 L56.0,353.9 L56.5,353.7 L57.0,353.6 L57.5,353.4 L58.0,353.3 L58.5,353.1 L59.0,353.0 L59.5,352.8 L60.0,352.7 L60.5,352.5 L60.9,352.3 L61.4,352.1 L61.9,351.9 L62.4,351.8 L62.9,351.6 L63.4,351.4 L63.9,351.2 L64.3,351.1 L64.8,350.9 L65.3,350.7 L65.7,350.5 L66.2,350.4 L66.7,350.2 L67.1,350.0 L67.6,349.8 L68.1,349.6 L68.5,349.4 L69.0,349.2 L69.5,349.0 L70.0,348.7 L70.5,348.5 L71.0,348.3 L71.5,348.0 L71.9,347.8 L72.4,347.5 L72.9,347.3 L73.4,347.0 L73.9,346.6 L74.4,346.3 L74.9,345.9 L75.4,345.5 L75.9,345.1 L76.4,344.7 L76.9,344.3 L77.4,343.8 L77.9,343.3 L78.4,342.8 L78.9,342.3 L79.4,341.8 L79.9,341.3 L80.4,340.8 L80.9,340.2 L81.4,339.6 L81.9,339.0 L82.4,338.4 L82.9,337.8 L83.4,337.2 L83.9,336.6 L84.4,335.9 L84.9,335.3 L85.4,334.6 L85.9,334.0 L86.3,333.3 L86.8,332.6 L87.2,331.9 L87.7,331.2 L88.1,330.5 L88.6,329.8 L89.1,329.2 L89.5,328.5 L90.0,327.8 L90.4,327.2 L90.9,326.5 L91.3,325.9 L91.8,325.3 L92.2,324.8 L92.7,324.3 L93.2,323.8 L93.7,323.3 L94.2,322.8 L94.7,322.4 L95.2,322.0 L95.7,321.6 L96.2,321.2 L96.7,320.9 L97.2,320.6 L97.7,320.3 L98.2,320.1 L98.7,319.9 L99.2,319.7 L99.7,319.6 L100.2,319.5 L100.6,319.5 L101.1,319.4 L101.6,319.4 L102.1,319.4 L102.6,319.4 L103.1,319.4 L103.6,319.4 L104.0,319.5 L104.5,319.5 L105.0,319.6 L105.5,319.7 L106.0,319.8 L106.5,319.8 L106.9,319.9 L107.4,320.0 L107.9,320.1 L108.4,320.2 L108.9,320.3 L109.4,320.4 L109.8,320.5 L110.3,320.5 L110.8,320.6 L111.3,320.7 L111.8,320.7 L112.2,320.8 L112.7,320.9 L113.2,320.9 L113.7,321.0 L114.2,321.1 L114.7,321.1 L115.2,321.2 L115.6,321.3 L116.1,321.3 L116.6,321.4 L117.1,321.5 L117.6,321.6 L118.0,321.6 L118.5,321.7 L119.0,321.7 L119.5,321.8 L120.0,321.9 L120.5,321.9 L121.0,322.0 L121.4,322.1 L121.9,322.1 L122.4,322.2 L122.9,322.3 L123.4,322.3 L123.8,322.4 L124.3,322.5 L124.8,322.5 L125.2,322.6 L125.7,322.7 L126.2,322.7 L126.7,322.8 L127.2,322.8 L127.6,322.9 L128.1,322.9 L128.6,323.0 L129.1,323.0 L129.5,323.1 L130.0,323.1 L130.5,323.1 L131.0,323.2 L131.5,323.2 L132.0,323.2 L132.5,323.2 L133.0,323.3 L133.5,323.3 L134.0,323.3 L134.5,323.4 L135.0,323.4 L135.5,323.4 L136.0,323.4 L136.5,323.5 L137.0,323.5 L137.5,323.5 L138.0,323.5 L138.5,323.6 L139.0,323.6 L139.5,323.6 L140.0,323.7 L140.5,323.7 L141.0,323.7 L141.5,323.7 L142.0,323.8 L142.5,323.8 L143.0,323.8 L143.5,323.8 L144.0,323.9 L144.5,323.9 L145.0,323.9 L145.5,324.0 L146.0,324.0 L146.5,324.0 L147.0,324.0 L147.5,324.1 L148.0,324.1 L148.5,324.1 L149.0,324.1 L149.5,324.2 L150.0,324.2 L150.5,324.2 L151.0,324.2 L151.5,324.3 L152.0,324.3 L152.5,324.3 L153.0,324.3 L153.5,324.4 L154.0,324.4 L154.5,324.4 L155.0,324.4 L155.5,324.5 L156.0,324.5 L156.5,324.5 L157.0,324.5 L157.5,324.6 L158.0,324.6 L158.5,324.6 L159.0,324.6 L159.5,324.7 L160.0,324.7 L160.5,324.7 L161.0,324.7 L161.5,324.7 L162.0,324.8 L162.5,324.8 L163.0,324.8 L163.5,324.8 L164.0,324.9 L164.5,324.9 L165.0,324.9 L165.5,324.9 L166.0,324.9 L166.5,325.0 L167.0,325.0 L167.5,325.0 L168.0,325.0 L168.5,325.1 L169.0,325.1 L169.5,325.1 L170.0,325.1 L170.5,325.1 L171.0,325.2 L171.5,325.2 L172.0,325.2 L172.5,325.2 L173.0,325.2 L173.5,325.3 L174.0,325.3 L174.5,325.3 L175.0,325.3 L175.5,325.3 L176.0,325.4 L176.5,325.4 L177.0,325.4 L177.5,325.4 L178.0,325.4 L178.5,325.4 L179.0,325.5 L179.5,325.5 L180.0,325.5 L180.5,325.5 L181.0,325.5 L181.5,325.6 L182.0,325.6 L182.5,325.6 L183.0,325.6 L183.5,325.6 L184.0,325.6 L184.5,325.6 L185.0,325.7 L185.5,325.7 L186.0,325.7 L186.5,325.7 L187.0,325.7 L187.5,325.7 L188.0,325.7 L188.5,325.7 L189.0,325.8 L189.5,325.8 L190.0,325.8 L190.5,325.8 L191.0,325.8 L191.5,325.8 L192.0,325.8 L192.5,325.8 L193.0,325.8 L193.5,325.8 L194.0,325.8 L194.5,325.9 L195.0,325.9 L195.5,325.9 L196.0,325.9 L196.5,325.9 L197.0,325.9 L197.5,325.9 L198.0,325.9 L198.5,325.9 L199.0,325.9 L199.5,325.9 L200.0,325.9 L200.5,325.9 L201.0,326.0 L201.5,326.0 L202.0,326.0 L202.5,326.0 L203.0,326.0 L203.5,326.0 L204.0,326.0 L204.5,326.0 L205.0,326.0 L205.5,326.0 L206.0,326.0 L206.5,326.0 L207.0,326.0 L207.5,326.0 L208.0,326.1 L208.5,326.1 L209.0,326.1 L209.5,326.1 L210.0,326.1 L210.5,326.1 L211.0,326.1 L211.5,326.1 L212.0,326.1 L212.5,326.1 L213.0,326.1 L213.5,326.2 L214.0,326.2 L214.5,326.2 L215.0,326.2 L215.5,326.2 L216.0,326.2 L216.5,326.2 L217.0,326.2 L217.5,326.2 L218.0,326.2 L218.5,326.3 L219.0,326.3 L219.5,326.3 L220.0,326.3 L220.5,326.3 L221.0,326.3 L221.5,326.3 L222.0,326.4 L222.5,326.4 L223.0,326.4 L223.5,326.4 L224.0,326.4 L224.5,326.4 L225.0,326.4 L225.5,326.5 L226.0,326.5 L226.5,326.5 L227.0,326.5 L227.5,326.5 L228.0,326.5 L228.5,326.6 L229.0,326.6 L229.5,326.6 L230.0,326.6 L230.5,326.6 L231.0,326.6 L231.5,326.7 L232.0,326.7 L232.5,326.7 L233.0,326.7 L233.5,326.7 L234.0,326.7 L234.5,326.8 L235.0,326.8 L235.5,326.8 L236.0,326.8 L236.5,326.8 L237.0,326.8 L237.5,326.9 L238.0,326.9 L238.5,326.9 L239.0,326.9 L239.5,326.9 L240.0,327.0 L240.5,327.0 L241.0,327.0 L241.5,327.0 L242.0,327.0 L242.5,327.0 L243.0,327.1 L243.5,327.1 L244.0,327.1 L244.5,327.1 L245.0,327.1 L245.5,327.2 L246.0,327.2 L246.5,327.2 L247.0,327.2 L247.5,327.2 L248.0,327.2 L248.5,327.3 L249.0,327.3 L249.5,327.3 L250.0,327.3 L250.5,327.3 L251.0,327.4 L251.5,327.4 L252.0,327.4 L252.5,327.4 L253.0,327.4 L253.5,327.5 L254.0,327.5 L254.5,327.5 L255.0,327.5 L255.5,327.5 L256.0,327.5 L256.5,327.6 L257.0,327.6 L257.5,327.6 L258.0,327.6 L258.5,327.6 L259.0,327.6 L259.5,327.7 L260.0,327.7 L260.5,327.7" fill="none" stroke="#000" stroke-width="1.75" stroke-linejoin="round" stroke-linecap="butt"/>
<path d="M41.85,14.1 V116.8" stroke="#000" stroke-width="1.6" fill="none"/>
<path d="M38.050000000000004,14.7 H41.85" stroke="#000" stroke-width="1.35" fill="none"/>
<path d="M38.050000000000004,65.3 H41.85" stroke="#000" stroke-width="1.35" fill="none"/>
<path d="M38.050000000000004,116.2 H41.85" stroke="#000" stroke-width="1.35" fill="none"/>
<path d="M42.3,141.1 V237.1" stroke="#000" stroke-width="1.6" fill="none"/>
<path d="M39.099999999999994,141.7 H42.3" stroke="#000" stroke-width="1.35" fill="none"/>
<path d="M39.099999999999994,189.4 H42.3" stroke="#000" stroke-width="1.35" fill="none"/>
<path d="M39.099999999999994,236.5 H42.3" stroke="#000" stroke-width="1.35" fill="none"/>
<path d="M42.0,261.4 V357.5" stroke="#000" stroke-width="1.6" fill="none"/>
<path d="M38.5,262.0 H42.0" stroke="#000" stroke-width="1.35" fill="none"/>
<path d="M38.5,309.6 H42.0" stroke="#000" stroke-width="1.35" fill="none"/>
<path d="M38.5,356.9 H42.0" stroke="#000" stroke-width="1.35" fill="none"/>
<text x="35" y="18.4" font-size="11.6" text-anchor="end" stroke="#000" stroke-width="0.28">110</text>
<text x="35" y="68.5" font-size="11.6" text-anchor="end" stroke="#000" stroke-width="0.28">35</text>
<text x="35" y="119.7" font-size="11.6" text-anchor="end" stroke="#000" stroke-width="0.28">-40</text>
<text x="35" y="144.8" font-size="11.6" text-anchor="end" stroke="#000" stroke-width="0.28">3</text>
<text x="35" y="191.9" font-size="11.6" text-anchor="end" stroke="#000" stroke-width="0.28">0</text>
<text x="35" y="240.4" font-size="11.6" text-anchor="end" stroke="#000" stroke-width="0.28">-3</text>
<text x="35" y="265.6" font-size="11.6" text-anchor="end" stroke="#000" stroke-width="0.28">18</text>
<text x="35" y="312.7" font-size="11.6" text-anchor="end" stroke="#000" stroke-width="0.28">9</text>
<text x="35" y="360.0" font-size="11.6" text-anchor="end" stroke="#000" stroke-width="0.28">0</text>
<text x="10.8" y="65.3" font-size="11.6" text-anchor="middle" stroke="#000" stroke-width="0.28" transform="rotate(-90 10.8 65.3)">Grip Force Rate [N/s]</text>
<text x="10.8" y="188.8" font-size="11.6" text-anchor="middle" stroke="#000" stroke-width="0.28" transform="rotate(-90 10.8 188.8)">Acceleration [m/s<tspan font-size="7.5" dy="-4">2</tspan><tspan dy="4">]</tspan></text>
<text x="10.8" y="309.8" font-size="11.6" text-anchor="middle" stroke="#000" stroke-width="0.28" transform="rotate(-90 10.8 309.8)">Grip Force [N]</text>
<rect x="172.6" y="46.5" width="92.1" height="20.8" fill="#fff" stroke="#000" stroke-width="1.3"/>
<text x="177" y="60.8" font-size="11.55" text-anchor="start" stroke="#000" stroke-width="0.28" font-style="italic">self-paced lifting</text>
<path d="M42.3,368.5 H151.6" stroke="#000" stroke-width="1.3" fill="none"/>
<text x="98.2" y="381.3" font-size="11.6" text-anchor="middle" stroke="#000" stroke-width="0.28">1 s</text>
<path d="M326.0,88.0 L327.0,87.7 L328.0,87.3 L329.0,87.0 L330.0,86.7 L331.0,86.3 L332.0,86.0 L333.0,85.8 L334.0,85.6 L335.0,85.4 L336.0,85.2 L337.0,85.0 L338.0,84.8 L339.0,84.6 L340.0,84.4 L341.0,83.2 L342.0,81.9 L343.0,80.6 L344.0,79.3 L345.0,78.0 L346.0,76.7 L347.0,74.9 L348.0,73.1 L349.0,71.2 L350.0,69.4 L351.0,67.5 L352.0,65.7 L353.0,62.1 L354.0,58.2 L355.0,54.2 L356.0,50.2 L357.0,46.3 L358.0,43.1 L359.0,40.2 L360.0,37.3 L361.0,34.4 L362.0,33.6 L363.0,33.8 L364.0,34.0 L365.0,35.0 L366.0,36.2 L367.0,37.5 L368.0,38.7 L369.0,41.4 L370.0,44.6 L371.0,47.9 L372.0,52.0 L373.0,56.7 L374.0,61.4 L375.0,65.4 L376.0,68.9 L377.0,72.5 L378.0,76.0 L379.0,77.9 L380.0,78.7 L381.0,79.5 L382.0,80.4 L383.0,81.2 L384.0,82.0 L385.0,82.8 L386.0,83.7 L387.0,84.5 L388.0,85.3 L389.0,86.2 L390.0,87.0 L391.0,87.6 L392.0,87.9 L393.0,88.3 L394.0,88.6 L395.0,89.0 L396.0,89.3 L397.0,89.5 L398.0,89.5 L399.0,89.5 L400.0,89.5 L401.0,89.5 L402.0,89.5 L403.0,89.5 L404.0,89.5 L405.0,89.5 L406.0,89.5 L407.0,89.4 L408.0,89.4 L409.0,89.4 L410.0,89.4 L411.0,89.3 L412.0,89.3 L412.0,90.5 L411.0,90.6 L410.0,90.8 L409.0,90.9 L408.0,91.1 L407.0,91.2 L406.0,91.4 L405.0,91.5 L404.0,91.7 L403.0,92.0 L402.0,92.2 L401.0,92.4 L400.0,92.7 L399.0,92.9 L398.0,93.1 L397.0,93.4 L396.0,93.8 L395.0,94.2 L394.0,94.8 L393.0,95.2 L392.0,95.8 L391.0,96.2 L390.0,96.7 L389.0,97.2 L388.0,97.6 L387.0,98.0 L386.0,98.4 L385.0,98.9 L384.0,98.9 L383.0,98.5 L382.0,98.1 L381.0,97.7 L380.0,96.5 L379.0,94.0 L378.0,91.5 L377.0,89.0 L376.0,87.1 L375.0,86.1 L374.0,85.1 L373.0,84.0 L372.0,83.0 L371.0,82.0 L370.0,80.8 L369.0,79.4 L368.0,78.0 L367.0,76.6 L366.0,75.1 L365.0,73.7 L364.0,74.1 L363.0,75.2 L362.0,76.3 L361.0,77.3 L360.0,78.4 L359.0,79.5 L358.0,80.6 L357.0,81.5 L356.0,81.8 L355.0,82.0 L354.0,82.3 L353.0,82.6 L352.0,82.9 L351.0,83.2 L350.0,83.7 L349.0,85.1 L348.0,86.5 L347.0,87.9 L346.0,89.0 L345.0,89.1 L344.0,89.2 L343.0,89.3 L342.0,89.3 L341.0,89.4 L340.0,89.5 L339.0,89.5 L338.0,89.5 L337.0,89.5 L336.0,89.5 L335.0,89.5 L334.0,89.5 L333.0,89.5 L332.0,89.5 L331.0,89.6 L330.0,89.7 L329.0,89.8 L328.0,89.8 L327.0,89.9 L326.0,90.0Z" fill="#808080"/>
<rect x="355.50" y="30" width="0.8" height="70" fill="#fff"/>
<rect x="384.20" y="30" width="0.8" height="70" fill="#fff"/>
<rect x="369.75" y="30" width="0.5" height="70" fill="#fff"/>
<rect x="381.35" y="30" width="0.5" height="70" fill="#fff"/>
<path d="M325.0,89.1 L325.5,89.0 L325.9,88.9 L326.4,88.7 L326.9,88.6 L327.4,88.5 L327.8,88.4 L328.3,88.3 L328.8,88.1 L329.3,88.0 L329.7,87.9 L330.2,87.8 L330.7,87.7 L331.2,87.6 L331.6,87.5 L332.1,87.4 L332.6,87.3 L333.1,87.3 L333.6,87.2 L334.1,87.2 L334.6,87.2 L335.1,87.2 L335.6,87.2 L336.1,87.1 L336.6,87.1 L337.1,87.1 L337.6,87.0 L338.1,87.0 L338.6,86.9 L339.1,86.7 L339.6,86.6 L340.1,86.4 L340.6,86.2 L341.0,85.9 L341.5,85.6 L342.0,85.3 L342.4,85.0 L342.9,84.6 L343.4,84.2 L343.9,83.8 L344.3,83.3 L344.8,82.9 L345.3,82.4 L345.7,81.9 L346.2,81.4 L346.7,80.9 L347.2,80.3 L347.7,79.7 L348.2,79.1 L348.7,78.5 L349.2,77.8 L349.7,77.2 L350.2,76.4 L350.7,75.7 L351.2,74.9 L351.7,74.1 L352.2,73.3 L352.7,72.5 L353.1,71.5 L353.6,70.6 L354.1,69.6 L354.5,68.5 L355.0,67.4 L355.4,66.4 L355.9,65.3 L356.4,64.3 L356.8,63.3 L357.3,62.3 L357.8,61.3 L358.3,60.3 L358.8,59.3 L359.3,58.3 L359.8,57.4 L360.3,56.6 L360.8,55.8 L361.3,55.2 L361.8,54.7 L362.3,54.3 L362.8,54.1 L363.3,54.0 L363.8,54.0 L364.3,54.2 L364.8,54.4 L365.3,54.7 L365.8,55.1 L366.3,55.5 L366.8,56.1 L367.3,56.7 L367.8,57.4 L368.3,58.2 L368.8,59.1 L369.2,60.0 L369.7,61.1 L370.1,62.2 L370.6,63.4 L371.0,64.6 L371.5,65.9 L371.9,67.1 L372.4,68.3 L372.9,69.6 L373.4,71.1 L373.9,72.5 L374.4,74.0 L374.9,75.4 L375.4,76.8 L375.9,78.2 L376.4,79.4 L376.9,80.6 L377.4,81.7 L377.9,82.8 L378.4,83.9 L378.9,84.9 L379.4,85.8 L379.9,86.6 L380.4,87.4 L380.9,88.0 L381.3,88.6 L381.8,89.1 L382.2,89.5 L382.7,89.9 L383.1,90.3 L383.6,90.6 L384.0,90.9 L384.5,91.1 L385.0,91.3 L385.5,91.6 L386.0,91.7 L386.5,91.9 L387.0,92.1 L387.5,92.2 L388.0,92.3 L388.5,92.4 L389.0,92.4 L389.5,92.5 L390.0,92.5 L390.5,92.5 L391.0,92.5 L391.5,92.5 L391.9,92.4 L392.4,92.4 L392.9,92.4 L393.4,92.3 L393.9,92.2 L394.3,92.2 L394.8,92.1 L395.3,92.0 L395.8,91.9 L396.3,91.9 L396.8,91.8 L397.2,91.7 L397.7,91.6 L398.2,91.5 L398.7,91.4 L399.2,91.3 L399.6,91.2 L400.1,91.2 L400.6,91.1 L401.1,91.0 L401.6,91.0 L402.0,90.9 L402.5,90.8 L403.0,90.7 L403.5,90.7 L404.0,90.6 L404.4,90.5 L404.9,90.4 L405.4,90.3 L405.9,90.3 L406.4,90.2 L406.9,90.1 L407.3,90.0 L407.8,90.0 L408.3,89.9 L408.8,89.8 L409.3,89.8 L409.7,89.7 L410.2,89.7 L410.7,89.6 L411.2,89.5 L411.7,89.5 L412.2,89.5 L412.7,89.4 L413.1,89.4 L413.6,89.3 L414.1,89.3 L414.6,89.2 L415.1,89.2 L415.6,89.2 L416.1,89.2 L416.6,89.1 L417.1,89.1 L417.6,89.1 L418.0,89.1 L418.5,89.0 L419.0,89.0 L419.5,89.0 L420.0,89.0 L420.5,89.0 L421.0,89.0 L421.5,89.0 L422.0,89.0 L422.5,89.0 L423.0,89.0 L423.5,89.0 L424.0,89.1 L424.5,89.1 L425.0,89.1 L425.5,89.1 L426.0,89.1 L426.5,89.1 L427.0,89.2 L427.5,89.2 L428.0,89.2 L428.5,89.2 L429.0,89.2 L429.5,89.2 L430.0,89.2 L430.5,89.2 L431.0,89.2 L431.5,89.2 L432.0,89.1 L432.5,89.1 L433.0,89.1 L433.5,89.1 L434.0,89.0 L434.5,89.0 L435.0,89.0 L435.5,89.0 L436.0,88.9 L436.5,88.9 L437.0,88.9 L437.5,88.9 L438.0,88.8 L438.5,88.8 L439.0,88.8 L439.5,88.8 L440.0,88.8 L440.5,88.8 L441.0,88.8 L441.5,88.8 L442.0,88.9 L442.5,88.9 L443.0,88.9 L443.5,88.9 L444.0,89.0 L444.5,89.0 L445.0,89.1 L445.5,89.1 L446.0,89.1 L446.5,89.2 L447.0,89.2 L447.5,89.2 L448.0,89.2 L448.5,89.3 L449.0,89.3 L449.5,89.3 L450.0,89.3 L450.5,89.3 L451.0,89.3 L451.5,89.3 L452.0,89.3 L452.5,89.3 L453.0,89.3 L453.5,89.2 L454.0,89.2 L454.5,89.2 L455.0,89.2 L455.5,89.2 L456.0,89.1 L456.5,89.1 L457.0,89.1 L457.5,89.1 L458.0,89.1 L458.5,89.0 L459.0,89.0 L459.5,89.0 L460.0,89.0 L460.5,88.9 L461.0,88.9 L461.5,88.9 L462.0,88.9 L462.5,88.9 L463.0,88.9 L463.5,88.9 L464.0,88.8 L464.5,88.8 L465.0,88.8 L465.5,88.8 L466.0,88.8 L466.5,88.8 L467.0,88.8 L467.5,88.8 L468.0,88.8 L468.5,88.7 L469.0,88.7 L469.5,88.7 L470.0,88.7 L470.5,88.7 L471.0,88.7 L471.5,88.7 L472.0,88.7 L472.5,88.7 L473.0,88.7 L473.5,88.7 L474.0,88.7 L474.5,88.7 L475.0,88.7 L475.5,88.7 L476.0,88.7 L476.5,88.7 L477.0,88.8 L477.5,88.8 L478.0,88.8 L478.5,88.9 L479.0,88.9 L479.5,88.9 L480.0,89.0 L480.5,89.0 L481.0,89.0 L481.5,89.1 L482.0,89.1 L482.5,89.1 L483.0,89.1 L483.5,89.2 L484.0,89.2 L484.5,89.2 L485.0,89.2 L485.5,89.2 L486.0,89.2 L486.5,89.2 L487.0,89.2 L487.5,89.2 L488.0,89.1 L488.5,89.1 L489.0,89.1 L489.5,89.1 L490.0,89.0 L490.5,89.0 L491.0,89.0 L491.5,88.9 L492.0,88.9 L492.5,88.9 L493.0,88.9 L493.5,88.8 L494.0,88.8 L494.5,88.8 L495.0,88.8 L495.5,88.8 L496.0,88.8 L496.5,88.8 L497.0,88.8 L497.5,88.8 L498.0,88.8 L498.5,88.9 L499.0,88.9 L499.5,88.9 L500.0,88.9 L500.5,89.0 L501.0,89.0 L501.5,89.0 L502.0,89.1 L502.5,89.1 L503.0,89.1 L503.5,89.1 L504.0,89.2 L504.5,89.2 L505.0,89.2 L505.5,89.2 L506.0,89.3 L506.5,89.3 L507.0,89.3 L507.5,89.3 L508.0,89.3 L508.5,89.3 L509.0,89.3 L509.5,89.3 L510.0,89.3 L510.5,89.3 L511.0,89.3 L511.5,89.2 L512.0,89.2 L512.5,89.2 L513.0,89.2 L513.5,89.2 L514.0,89.1 L514.5,89.1 L515.0,89.1 L515.5,89.1 L516.0,89.0 L516.5,89.0 L517.0,89.0 L517.5,89.0 L518.0,89.0 L518.5,88.9 L519.0,88.9 L519.5,88.9 L520.0,88.9 L520.5,88.9 L521.0,88.9 L521.5,88.9 L522.0,88.9 L522.5,88.9 L523.0,88.8 L523.5,88.8 L524.0,88.8 L524.5,88.8 L525.0,88.8 L525.5,88.8 L526.0,88.8 L526.5,88.8 L527.0,88.8 L527.5,88.8 L528.0,88.8 L528.5,88.8 L529.0,88.8 L529.5,88.8 L530.0,88.8 L530.5,88.8 L531.0,88.8 L531.5,88.8 L531.9,88.8 L532.4,88.8 L532.9,88.8 L533.4,88.8 L533.9,88.8 L534.4,88.8 L534.9,88.8 L535.4,88.8 L535.8,88.8 L536.3,88.8 L536.8,88.9 L537.3,88.9 L537.8,88.9 L538.3,88.9 L538.8,88.9 L539.2,88.9 L539.7,88.9 L540.2,88.9 L540.7,88.9" fill="none" stroke="#000" stroke-width="1.75" stroke-linejoin="round" stroke-linecap="butt"/>
<path d="M340.0,188.4 L341.0,188.4 L342.0,188.4 L343.0,188.3 L344.0,188.3 L345.0,188.3 L346.0,188.3 L347.0,188.3 L348.0,188.2 L349.0,188.2 L350.0,188.2 L351.0,188.2 L352.0,188.2 L353.0,188.1 L354.0,188.1 L355.0,188.1 L356.0,188.1 L357.0,188.1 L358.0,188.0 L359.0,188.0 L360.0,188.0 L361.0,187.2 L362.0,186.4 L363.0,185.6 L364.0,183.9 L365.0,181.8 L366.0,179.7 L367.0,177.5 L368.0,175.4 L369.0,173.3 L370.0,170.2 L371.0,165.6 L372.0,161.0 L373.0,156.4 L374.0,151.8 L375.0,148.1 L376.0,145.0 L377.0,141.9 L378.0,139.3 L379.0,141.3 L380.0,145.9 L381.0,150.4 L382.0,154.2 L383.0,158.0 L384.0,161.8 L385.0,165.6 L386.0,169.4 L387.0,172.9 L388.0,175.6 L389.0,178.3 L390.0,181.0 L391.0,182.9 L392.0,184.8 L393.0,186.3 L394.0,187.2 L395.0,188.0 L396.0,188.5 L397.0,188.7 L398.0,188.9 L399.0,189.2 L400.0,189.4 L401.0,189.5 L402.0,189.5 L403.0,189.4 L404.0,189.4 L405.0,189.4 L406.0,189.4 L407.0,189.3 L408.0,189.3 L409.0,189.3 L410.0,189.4 L411.0,189.5 L412.0,189.6 L413.0,189.7 L414.0,189.8 L415.0,189.9 L416.0,190.0 L417.0,190.2 L418.0,190.4 L419.0,190.7 L420.0,190.9 L421.0,191.1 L422.0,191.3 L423.0,191.6 L424.0,191.7 L425.0,191.9 L426.0,192.0 L427.0,192.2 L428.0,191.8 L429.0,191.4 L430.0,191.0 L431.0,190.6 L432.0,190.2 L433.0,189.9 L434.0,189.5 L435.0,189.1 L436.0,188.7 L437.0,188.4 L438.0,188.0 L439.0,187.6 L440.0,187.2 L441.0,186.9 L442.0,186.5 L443.0,186.2 L444.0,186.0 L445.0,185.8 L446.0,185.6 L447.0,185.5 L448.0,185.3 L449.0,185.1 L450.0,184.9 L451.0,184.7 L452.0,184.6 L453.0,184.7 L454.0,184.8 L455.0,184.9 L456.0,184.9 L457.0,185.0 L458.0,185.1 L459.0,185.2 L460.0,185.3 L461.0,185.3 L462.0,185.4 L463.0,185.5 L464.0,185.8 L465.0,186.1 L466.0,186.3 L467.0,186.6 L468.0,186.9 L469.0,187.1 L470.0,187.4 L471.0,187.5 L472.0,187.7 L473.0,187.8 L474.0,188.0 L475.0,188.1 L476.0,188.3 L477.0,188.3 L478.0,188.4 L479.0,188.4 L480.0,188.4 L481.0,188.4 L482.0,188.5 L483.0,188.5 L484.0,188.5 L485.0,188.5 L486.0,188.6 L487.0,188.6 L488.0,188.6 L489.0,188.6 L490.0,188.6 L491.0,188.5 L492.0,188.5 L493.0,188.5 L494.0,188.5 L495.0,188.5 L496.0,188.5 L497.0,188.5 L498.0,188.4 L499.0,188.4 L500.0,188.4 L501.0,188.4 L502.0,188.3 L503.0,188.2 L504.0,188.1 L505.0,188.1 L506.0,188.0 L507.0,187.9 L508.0,187.8 L509.0,187.8 L510.0,187.7 L511.0,187.5 L512.0,187.4 L513.0,187.3 L514.0,187.2 L515.0,187.1 L516.0,186.9 L517.0,187.0 L518.0,187.3 L519.0,187.5 L520.0,187.8 L521.0,188.0 L522.0,188.3 L523.0,188.5 L524.0,188.8 L525.0,189.0 L526.0,188.9 L527.0,188.6 L528.0,188.2 L529.0,187.9 L530.0,187.6 L531.0,187.2 L532.0,186.1 L533.0,185.0 L534.0,183.9 L535.0,182.8 L536.0,182.3 L537.0,182.2 L538.0,182.1 L539.0,181.9 L540.0,181.8 L541.0,181.7 L542.0,182.5 L542.0,196.2 L541.0,196.2 L540.0,196.2 L539.0,196.2 L538.0,196.2 L537.0,196.2 L536.0,195.8 L535.0,195.1 L534.0,194.4 L533.0,193.6 L532.0,192.9 L531.0,192.9 L530.0,192.9 L529.0,192.9 L528.0,192.9 L527.0,192.9 L526.0,192.9 L525.0,193.0 L524.0,193.4 L523.0,193.7 L522.0,194.0 L521.0,194.3 L520.0,194.7 L519.0,195.0 L518.0,195.1 L517.0,195.1 L516.0,195.1 L515.0,195.1 L514.0,195.1 L513.0,195.1 L512.0,195.1 L511.0,195.1 L510.0,195.1 L509.0,194.6 L508.0,194.0 L507.0,193.3 L506.0,192.7 L505.0,192.0 L504.0,191.6 L503.0,191.1 L502.0,190.7 L501.0,190.3 L500.0,190.2 L499.0,190.3 L498.0,190.3 L497.0,190.3 L496.0,190.4 L495.0,190.4 L494.0,190.4 L493.0,190.5 L492.0,190.5 L491.0,190.5 L490.0,190.6 L489.0,190.6 L488.0,190.6 L487.0,190.7 L486.0,190.7 L485.0,190.7 L484.0,190.8 L483.0,190.8 L482.0,191.3 L481.0,191.8 L480.0,192.2 L479.0,192.7 L478.0,193.2 L477.0,193.7 L476.0,194.0 L475.0,193.8 L474.0,193.6 L473.0,193.5 L472.0,193.3 L471.0,193.1 L470.0,193.0 L469.0,192.9 L468.0,192.9 L467.0,192.9 L466.0,192.9 L465.0,192.9 L464.0,192.9 L463.0,192.9 L462.0,192.9 L461.0,192.9 L460.0,192.9 L459.0,192.9 L458.0,192.9 L457.0,192.9 L456.0,192.9 L455.0,193.0 L454.0,193.0 L453.0,193.0 L452.0,193.0 L451.0,193.0 L450.0,193.1 L449.0,193.1 L448.0,193.1 L447.0,193.1 L446.0,193.1 L445.0,193.2 L444.0,193.2 L443.0,193.2 L442.0,193.7 L441.0,194.3 L440.0,194.9 L439.0,195.5 L438.0,196.1 L437.0,196.7 L436.0,197.2 L435.0,197.8 L434.0,198.4 L433.0,199.3 L432.0,200.2 L431.0,201.1 L430.0,202.0 L429.0,203.0 L428.0,204.0 L427.0,205.1 L426.0,206.1 L425.0,206.9 L424.0,207.4 L423.0,208.0 L422.0,208.6 L421.0,209.2 L420.0,209.8 L419.0,210.2 L418.0,210.4 L417.0,210.6 L416.0,210.8 L415.0,211.1 L414.0,211.3 L413.0,211.5 L412.0,211.9 L411.0,212.4 L410.0,213.0 L409.0,213.5 L408.0,214.0 L407.0,214.3 L406.0,214.7 L405.0,215.0 L404.0,214.9 L403.0,214.1 L402.0,213.3 L401.0,212.5 L400.0,211.1 L399.0,209.8 L398.0,208.4 L397.0,206.9 L396.0,205.3 L395.0,203.6 L394.0,201.9 L393.0,200.8 L392.0,199.8 L391.0,198.8 L390.0,197.9 L389.0,196.9 L388.0,195.9 L387.0,195.2 L386.0,194.5 L385.0,193.8 L384.0,193.1 L383.0,192.3 L382.0,191.6 L381.0,190.2 L380.0,187.8 L379.0,185.3 L378.0,183.6 L377.0,182.6 L376.0,181.6 L375.0,180.6 L374.0,181.5 L373.0,182.5 L372.0,183.4 L371.0,184.3 L370.0,185.2 L369.0,186.1 L368.0,186.9 L367.0,187.7 L366.0,188.5 L365.0,188.7 L364.0,188.9 L363.0,189.1 L362.0,189.2 L361.0,189.4 L360.0,189.6 L359.0,189.6 L358.0,189.6 L357.0,189.6 L356.0,189.6 L355.0,189.6 L354.0,189.6 L353.0,189.6 L352.0,189.6 L351.0,189.6 L350.0,189.6 L349.0,189.6 L348.0,189.6 L347.0,189.6 L346.0,189.6 L345.0,189.6 L344.0,189.6 L343.0,189.6 L342.0,189.6 L341.0,189.6 L340.0,189.6Z" fill="#808080"/>
<rect x="381.00" y="135" width="0.8" height="85" fill="#fff"/>
<rect x="393.83" y="135" width="0.8" height="85" fill="#fff"/>
<rect x="406.66" y="135" width="0.8" height="85" fill="#fff"/>
<rect x="419.49" y="135" width="0.8" height="85" fill="#fff"/>
<rect x="432.32" y="135" width="0.8" height="85" fill="#fff"/>
<rect x="445.15" y="135" width="0.8" height="85" fill="#fff"/>
<rect x="457.98" y="135" width="0.8" height="85" fill="#fff"/>
<rect x="470.81" y="135" width="0.8" height="85" fill="#fff"/>
<rect x="483.64" y="135" width="0.8" height="85" fill="#fff"/>
<rect x="496.47" y="135" width="0.8" height="85" fill="#fff"/>
<rect x="509.30" y="135" width="0.8" height="85" fill="#fff"/>
<rect x="522.13" y="135" width="0.8" height="85" fill="#fff"/>
<rect x="534.96" y="135" width="0.8" height="85" fill="#fff"/>
<path d="M325.0,189.0 L325.5,189.0 L326.0,189.0 L326.5,189.0 L327.0,189.0 L327.5,189.0 L328.0,189.0 L328.5,189.0 L329.0,189.0 L329.5,189.0 L330.0,189.0 L330.5,189.0 L331.0,189.0 L331.5,189.0 L332.0,189.0 L332.5,189.0 L333.0,189.0 L333.5,189.0 L334.0,189.0 L334.5,189.0 L335.0,189.0 L335.5,189.0 L336.0,189.0 L336.5,189.0 L337.0,189.0 L337.5,189.0 L338.0,189.0 L338.5,189.0 L339.0,189.0 L339.5,189.0 L340.0,189.0 L340.5,189.0 L341.0,189.0 L341.5,189.0 L342.0,189.0 L342.5,189.0 L343.0,189.0 L343.5,189.0 L344.0,189.0 L344.5,189.0 L345.0,189.0 L345.5,189.0 L346.0,189.0 L346.5,189.0 L347.0,189.0 L347.5,189.0 L348.0,189.0 L348.5,188.9 L349.0,188.9 L349.5,188.9 L350.0,188.9 L350.5,188.9 L351.0,188.9 L351.5,188.9 L352.0,188.9 L352.5,188.9 L353.0,188.9 L353.5,188.8 L354.0,188.8 L354.5,188.8 L355.0,188.8 L355.5,188.8 L356.0,188.8 L356.5,188.8 L357.0,188.8 L357.5,188.8 L358.0,188.8 L358.5,188.8 L359.0,188.8 L359.5,188.7 L360.0,188.6 L360.5,188.5 L361.0,188.3 L361.5,188.1 L362.0,187.8 L362.5,187.5 L363.0,187.1 L363.4,186.6 L363.9,186.0 L364.4,185.4 L364.9,184.8 L365.4,184.0 L365.8,183.3 L366.3,182.5 L366.8,181.6 L367.3,180.7 L367.8,179.7 L368.2,178.7 L368.7,177.6 L369.2,176.4 L369.7,175.3 L370.2,174.1 L370.7,173.0 L371.2,171.8 L371.6,170.7 L372.1,169.6 L372.6,168.6 L373.1,167.6 L373.6,166.7 L374.1,165.8 L374.5,165.0 L375.0,164.2 L375.5,163.5 L376.0,162.9 L376.4,162.3 L376.9,161.9 L377.4,161.8 L377.8,161.9 L378.2,162.2 L378.6,162.8 L379.0,163.5 L379.5,164.6 L379.9,165.9 L380.4,167.4 L380.9,168.8 L381.4,170.4 L381.9,172.0 L382.4,173.7 L382.9,175.3 L383.4,176.9 L383.9,178.3 L384.4,179.6 L384.9,180.6 L385.3,181.5 L385.8,182.3 L386.2,183.1 L386.7,183.8 L387.1,184.5 L387.6,185.1 L388.0,185.8 L388.5,186.4 L389.0,187.1 L389.5,187.7 L390.0,188.4 L390.5,189.0 L391.0,189.6 L391.5,190.1 L392.0,190.7 L392.5,191.3 L393.0,191.9 L393.5,192.5 L394.0,193.1 L394.5,193.8 L395.0,194.4 L395.4,195.1 L395.9,195.7 L396.4,196.4 L396.9,197.0 L397.4,197.5 L397.8,198.0 L398.3,198.4 L398.8,198.8 L399.2,199.2 L399.6,199.6 L400.1,199.9 L400.6,200.2 L401.0,200.5 L401.5,200.8 L401.9,201.0 L402.4,201.2 L402.8,201.4 L403.3,201.6 L403.8,201.8 L404.2,202.0 L404.7,202.1 L405.1,202.2 L405.6,202.2 L406.1,202.2 L406.5,202.2 L407.0,202.2 L407.5,202.2 L408.0,202.1 L408.4,202.0 L408.9,202.0 L409.4,201.9 L409.9,201.8 L410.3,201.7 L410.8,201.6 L411.3,201.5 L411.8,201.4 L412.2,201.4 L412.7,201.3 L413.2,201.2 L413.7,201.2 L414.2,201.1 L414.7,201.1 L415.2,201.0 L415.7,200.9 L416.2,200.9 L416.7,200.8 L417.2,200.8 L417.7,200.7 L418.2,200.6 L418.7,200.6 L419.2,200.5 L419.7,200.4 L420.2,200.3 L420.7,200.2 L421.2,200.1 L421.7,200.0 L422.2,199.8 L422.7,199.7 L423.1,199.5 L423.6,199.4 L424.1,199.2 L424.6,199.0 L425.1,198.7 L425.6,198.5 L426.1,198.2 L426.6,198.0 L427.1,197.7 L427.6,197.4 L428.0,197.1 L428.5,196.8 L429.0,196.5 L429.5,196.2 L430.0,195.9 L430.5,195.5 L431.0,195.2 L431.5,194.9 L431.9,194.6 L432.4,194.3 L432.9,194.0 L433.4,193.8 L433.9,193.5 L434.4,193.2 L434.9,193.0 L435.4,192.7 L435.9,192.5 L436.4,192.2 L436.9,192.0 L437.4,191.8 L437.9,191.5 L438.4,191.3 L438.8,191.1 L439.3,190.9 L439.8,190.7 L440.3,190.5 L440.8,190.3 L441.3,190.1 L441.8,189.9 L442.3,189.8 L442.8,189.6 L443.3,189.5 L443.8,189.4 L444.2,189.3 L444.7,189.2 L445.2,189.1 L445.7,189.0 L446.2,189.0 L446.6,189.0 L447.1,188.9 L447.6,188.9 L448.1,188.9 L448.6,188.9 L449.0,188.8 L449.5,188.8 L450.0,188.8 L450.5,188.8 L451.0,188.8 L451.5,188.7 L452.0,188.7 L452.5,188.7 L453.0,188.7 L453.5,188.7 L454.0,188.7 L454.5,188.7 L455.0,188.8 L455.5,188.8 L456.0,188.8 L456.5,188.8 L457.0,188.8 L457.5,188.8 L458.0,188.9 L458.5,188.9 L459.0,188.9 L459.5,189.0 L459.9,189.0 L460.4,189.0 L460.9,189.1 L461.4,189.1 L461.9,189.2 L462.4,189.2 L462.8,189.3 L463.3,189.3 L463.8,189.4 L464.3,189.4 L464.8,189.5 L465.3,189.5 L465.7,189.6 L466.2,189.6 L466.7,189.7 L467.2,189.8 L467.7,189.8 L468.2,189.9 L468.6,189.9 L469.1,190.0 L469.6,190.0 L470.1,190.0 L470.6,190.1 L471.0,190.2 L471.5,190.2 L472.0,190.3 L472.5,190.4 L473.0,190.4 L473.4,190.5 L473.9,190.5 L474.4,190.6 L474.9,190.6 L475.3,190.6 L475.8,190.6 L476.3,190.6 L476.8,190.6 L477.3,190.5 L477.7,190.5 L478.2,190.4 L478.7,190.3 L479.2,190.2 L479.6,190.1 L480.1,190.0 L480.6,189.9 L481.1,189.8 L481.6,189.7 L482.0,189.6 L482.5,189.6 L483.0,189.5 L483.5,189.5 L484.0,189.4 L484.5,189.4 L485.0,189.4 L485.5,189.3 L486.0,189.3 L486.5,189.3 L487.0,189.3 L487.5,189.3 L488.0,189.2 L488.5,189.2 L489.0,189.2 L489.5,189.2 L490.0,189.2 L490.5,189.2 L491.0,189.2 L491.5,189.2 L492.0,189.2 L492.5,189.2 L493.0,189.2 L493.4,189.2 L493.9,189.1 L494.4,189.1 L494.9,189.1 L495.4,189.1 L495.9,189.1 L496.4,189.1 L496.9,189.1 L497.4,189.1 L497.9,189.1 L498.4,189.1 L498.8,189.2 L499.3,189.2 L499.8,189.2 L500.3,189.3 L500.8,189.3 L501.3,189.4 L501.8,189.4 L502.3,189.5 L502.8,189.6 L503.3,189.7 L503.8,189.8 L504.3,189.9 L504.8,190.0 L505.2,190.1 L505.7,190.2 L506.2,190.3 L506.7,190.5 L507.2,190.6 L507.7,190.7 L508.2,190.8 L508.7,190.9 L509.2,190.9 L509.7,191.0 L510.2,191.1 L510.6,191.1 L511.1,191.2 L511.6,191.2 L512.1,191.3 L512.5,191.3 L513.0,191.3 L513.5,191.4 L514.0,191.4 L514.4,191.4 L514.9,191.5 L515.4,191.5 L515.9,191.5 L516.3,191.5 L516.8,191.5 L517.3,191.5 L517.8,191.5 L518.2,191.5 L518.7,191.5 L519.2,191.5 L519.7,191.5 L520.2,191.4 L520.7,191.4 L521.2,191.4 L521.7,191.3 L522.2,191.3 L522.7,191.3 L523.2,191.2 L523.6,191.2 L524.1,191.1 L524.6,191.0 L525.1,191.0 L525.6,190.9 L526.1,190.8 L526.6,190.8 L527.1,190.7 L527.6,190.6 L528.1,190.5 L528.6,190.4 L529.1,190.3 L529.6,190.2 L530.1,190.0 L530.6,189.9 L531.1,189.8 L531.6,189.6 L532.0,189.5 L532.5,189.4 L533.0,189.2 L533.5,189.1 L534.0,189.0 L534.5,188.9 L535.0,188.8 L535.5,188.7 L536.0,188.6 L536.5,188.6 L537.0,188.6 L537.5,188.6 L538.0,188.6 L538.4,188.7 L538.9,188.8 L539.4,188.9 L539.9,189.0 L540.4,189.1 L540.8,189.2 L541.3,189.3 L541.8,189.4 L542.3,189.5" fill="none" stroke="#000" stroke-width="1.55" stroke-linejoin="round" stroke-linecap="butt"/>
<path d="M326.0,355.5 L327.0,355.2 L328.0,355.0 L329.0,354.8 L330.0,354.5 L331.0,354.2 L332.0,354.0 L333.0,353.8 L334.0,353.5 L335.0,353.2 L336.0,353.0 L337.0,352.6 L338.0,352.3 L339.0,351.9 L340.0,351.6 L341.0,351.2 L342.0,350.9 L343.0,350.5 L344.0,350.2 L345.0,349.8 L346.0,349.5 L347.0,348.7 L348.0,347.9 L349.0,347.0 L350.0,346.1 L351.0,345.3 L352.0,344.4 L353.0,343.6 L354.0,341.7 L355.0,339.5 L356.0,337.4 L357.0,335.2 L358.0,333.1 L359.0,330.9 L360.0,327.9 L361.0,324.6 L362.0,321.2 L363.0,317.8 L364.0,314.5 L365.0,311.1 L366.0,308.2 L367.0,305.6 L368.0,302.9 L369.0,300.3 L370.0,298.1 L371.0,296.4 L372.0,294.6 L373.0,292.8 L374.0,291.0 L375.0,289.2 L376.0,287.5 L377.0,285.7 L378.0,283.9 L379.0,282.5 L380.0,281.2 L381.0,280.0 L382.0,278.8 L383.0,278.1 L384.0,277.8 L385.0,277.6 L386.0,277.3 L387.0,277.1 L388.0,276.8 L389.0,276.6 L390.0,276.3 L391.0,276.3 L392.0,276.4 L393.0,276.5 L394.0,276.7 L395.0,276.8 L396.0,277.0 L397.0,277.1 L398.0,277.2 L399.0,277.4 L400.0,277.5 L401.0,277.7 L402.0,277.8 L403.0,277.9 L404.0,278.0 L405.0,278.2 L406.0,278.3 L407.0,278.4 L408.0,278.6 L409.0,278.7 L410.0,278.8 L411.0,279.0 L412.0,279.1 L413.0,279.2 L414.0,279.3 L415.0,279.4 L416.0,279.5 L417.0,279.6 L418.0,279.7 L419.0,279.8 L420.0,279.9 L421.0,280.0 L422.0,280.1 L423.0,280.2 L424.0,280.2 L425.0,280.3 L426.0,280.4 L427.0,280.5 L428.0,280.6 L429.0,280.7 L430.0,280.8 L431.0,280.9 L432.0,281.0 L433.0,281.1 L434.0,281.1 L435.0,281.2 L436.0,281.3 L437.0,281.4 L438.0,281.5 L439.0,281.6 L440.0,281.6 L441.0,281.7 L442.0,281.8 L443.0,281.9 L444.0,282.0 L445.0,282.1 L446.0,282.1 L447.0,282.2 L448.0,282.3 L449.0,282.4 L450.0,282.5 L451.0,282.6 L452.0,282.6 L453.0,282.7 L454.0,282.8 L455.0,282.8 L456.0,282.9 L457.0,282.9 L458.0,282.9 L459.0,282.9 L460.0,283.0 L461.0,283.0 L462.0,283.0 L463.0,283.0 L464.0,283.1 L465.0,283.1 L466.0,283.1 L467.0,283.1 L468.0,283.2 L469.0,283.2 L470.0,283.2 L471.0,283.2 L472.0,283.3 L473.0,283.3 L474.0,283.3 L475.0,283.4 L476.0,283.4 L477.0,283.4 L478.0,283.4 L479.0,283.5 L480.0,283.5 L481.0,283.5 L482.0,283.5 L483.0,283.6 L484.0,283.6 L485.0,283.6 L486.0,283.6 L487.0,283.7 L488.0,283.7 L489.0,283.7 L490.0,283.7 L491.0,283.8 L492.0,283.8 L493.0,283.8 L494.0,283.8 L495.0,283.9 L496.0,283.9 L497.0,283.9 L498.0,284.0 L499.0,284.0 L500.0,284.0 L501.0,284.0 L502.0,284.1 L503.0,284.1 L504.0,284.1 L505.0,284.1 L506.0,284.2 L507.0,284.2 L508.0,284.2 L509.0,284.2 L510.0,284.2 L511.0,284.3 L512.0,284.3 L513.0,284.3 L514.0,284.3 L515.0,284.3 L516.0,284.4 L517.0,284.4 L518.0,284.4 L519.0,284.4 L520.0,284.4 L521.0,284.5 L522.0,284.5 L523.0,284.5 L524.0,284.5 L525.0,284.5 L526.0,284.6 L527.0,284.6 L528.0,284.6 L529.0,284.6 L530.0,284.6 L531.0,284.7 L532.0,284.7 L533.0,284.7 L534.0,284.7 L535.0,284.7 L536.0,284.8 L537.0,284.8 L538.0,284.8 L539.0,284.8 L540.0,284.8 L541.0,284.9 L542.0,284.9 L543.0,284.9 L544.0,284.9 L545.0,284.9 L546.0,285.0 L547.0,285.0 L548.0,285.0 L548.0,338.0 L547.0,338.0 L546.0,338.0 L545.0,338.0 L544.0,338.0 L543.0,338.0 L542.0,338.0 L541.0,338.0 L540.0,338.0 L539.0,338.0 L538.0,338.0 L537.0,338.0 L536.0,338.0 L535.0,338.0 L534.0,338.0 L533.0,338.0 L532.0,338.0 L531.0,338.0 L530.0,338.0 L529.0,338.0 L528.0,338.0 L527.0,338.0 L526.0,338.0 L525.0,338.0 L524.0,338.0 L523.0,338.0 L522.0,338.0 L521.0,338.0 L520.0,338.0 L519.0,338.0 L518.0,338.0 L517.0,338.0 L516.0,338.0 L515.0,338.0 L514.0,338.0 L513.0,338.0 L512.0,338.0 L511.0,338.0 L510.0,338.0 L509.0,338.0 L508.0,338.0 L507.0,338.0 L506.0,338.0 L505.0,338.0 L504.0,338.0 L503.0,338.0 L502.0,338.0 L501.0,338.0 L500.0,338.0 L499.0,338.0 L498.0,338.0 L497.0,338.0 L496.0,338.0 L495.0,338.0 L494.0,338.0 L493.0,338.0 L492.0,338.0 L491.0,338.0 L490.0,338.0 L489.0,338.0 L488.0,338.0 L487.0,338.0 L486.0,338.0 L485.0,338.0 L484.0,338.0 L483.0,338.0 L482.0,338.0 L481.0,338.0 L480.0,338.0 L479.0,338.0 L478.0,337.9 L477.0,337.9 L476.0,337.9 L475.0,337.9 L474.0,337.8 L473.0,337.8 L472.0,337.8 L471.0,337.7 L470.0,337.7 L469.0,337.7 L468.0,337.7 L467.0,337.6 L466.0,337.6 L465.0,337.6 L464.0,337.6 L463.0,337.5 L462.0,337.5 L461.0,337.5 L460.0,337.5 L459.0,337.4 L458.0,337.4 L457.0,337.4 L456.0,337.4 L455.0,337.3 L454.0,337.3 L453.0,337.3 L452.0,337.3 L451.0,337.2 L450.0,337.2 L449.0,337.2 L448.0,337.2 L447.0,337.1 L446.0,337.1 L445.0,337.1 L444.0,337.0 L443.0,337.0 L442.0,337.0 L441.0,337.0 L440.0,336.9 L439.0,336.9 L438.0,336.9 L437.0,336.9 L436.0,336.8 L435.0,336.8 L434.0,336.8 L433.0,336.8 L432.0,336.7 L431.0,336.7 L430.0,336.7 L429.0,336.7 L428.0,336.6 L427.0,336.6 L426.0,336.5 L425.0,336.4 L424.0,336.3 L423.0,336.2 L422.0,336.2 L421.0,336.1 L420.0,336.0 L419.0,335.9 L418.0,335.8 L417.0,335.7 L416.0,335.6 L415.0,335.5 L414.0,335.4 L413.0,335.3 L412.0,335.1 L411.0,334.9 L410.0,334.7 L409.0,334.5 L408.0,334.3 L407.0,334.1 L406.0,333.9 L405.0,333.6 L404.0,333.4 L403.0,333.2 L402.0,333.0 L401.0,332.8 L400.0,332.4 L399.0,332.0 L398.0,331.6 L397.0,331.1 L396.0,330.7 L395.0,330.3 L394.0,329.8 L393.0,329.4 L392.0,329.0 L391.0,328.5 L390.0,328.0 L389.0,327.5 L388.0,327.0 L387.0,326.5 L386.0,326.0 L385.0,325.5 L384.0,325.0 L383.0,324.5 L382.0,324.1 L381.0,323.8 L380.0,323.6 L379.0,323.3 L378.0,323.6 L377.0,324.4 L376.0,325.3 L375.0,326.2 L374.0,327.1 L373.0,328.0 L372.0,328.9 L371.0,329.8 L370.0,330.9 L369.0,332.4 L368.0,333.9 L367.0,335.4 L366.0,336.9 L365.0,338.4 L364.0,339.9 L363.0,341.4 L362.0,342.8 L361.0,344.1 L360.0,345.5 L359.0,346.8 L358.0,348.1 L357.0,349.5 L356.0,350.7 L355.0,351.7 L354.0,352.7 L353.0,353.7 L352.0,354.7 L351.0,355.7 L350.0,356.5 L349.0,356.6 L348.0,356.6 L347.0,356.7 L346.0,356.7 L345.0,356.8 L344.0,356.8 L343.0,356.9 L342.0,356.9 L341.0,357.0 L340.0,357.0 L339.0,357.0 L338.0,357.0 L337.0,357.0 L336.0,356.9 L335.0,356.9 L334.0,356.9 L333.0,356.9 L332.0,356.9 L331.0,356.9 L330.0,356.9 L329.0,356.8 L328.0,356.8 L327.0,356.8 L326.0,356.8Z" fill="#808080"/>
<rect x="338.00" y="270" width="1.0" height="88" fill="#fff"/>
<rect x="348.50" y="270" width="1.0" height="88" fill="#fff"/>
<rect x="358.80" y="270" width="1.0" height="88" fill="#fff"/>
<rect x="369.60" y="270" width="1.0" height="88" fill="#fff"/>
<rect x="380.20" y="270" width="1.0" height="88" fill="#fff"/>
<rect x="391.50" y="270" width="1.0" height="88" fill="#fff"/>
<rect x="401.20" y="270" width="1.0" height="88" fill="#fff"/>
<rect x="411.60" y="270" width="1.0" height="88" fill="#fff"/>
<rect x="422.30" y="270" width="1.0" height="88" fill="#fff"/>
<rect x="432.80" y="270" width="1.0" height="88" fill="#fff"/>
<rect x="443.20" y="270" width="1.0" height="88" fill="#fff"/>
<rect x="453.00" y="270" width="1.0" height="88" fill="#fff"/>
<rect x="465.00" y="270" width="1.0" height="88" fill="#fff"/>
<rect x="474.00" y="270" width="1.0" height="88" fill="#fff"/>
<rect x="485.50" y="270" width="1.0" height="88" fill="#fff"/>
<rect x="495.80" y="270" width="1.0" height="88" fill="#fff"/>
<rect x="506.00" y="270" width="1.0" height="88" fill="#fff"/>
<rect x="516.50" y="270" width="1.0" height="88" fill="#fff"/>
<rect x="527.20" y="270" width="1.0" height="88" fill="#fff"/>
<rect x="538.90" y="270" width="1.0" height="88" fill="#fff"/>
<path d="M325.0,356.1 L325.5,356.0 L326.0,356.0 L326.4,356.0 L326.9,355.9 L327.4,355.9 L327.9,355.8 L328.4,355.8 L328.9,355.7 L329.3,355.7 L329.8,355.6 L330.3,355.6 L330.8,355.5 L331.3,355.5 L331.8,355.4 L332.2,355.4 L332.7,355.3 L333.2,355.3 L333.7,355.2 L334.2,355.2 L334.7,355.1 L335.1,355.0 L335.6,355.0 L336.1,354.9 L336.6,354.8 L337.1,354.8 L337.5,354.7 L338.0,354.6 L338.5,354.6 L339.0,354.5 L339.5,354.5 L339.9,354.4 L340.4,354.4 L340.9,354.3 L341.4,354.2 L341.9,354.1 L342.4,354.1 L342.8,354.0 L343.3,353.9 L343.8,353.7 L344.3,353.6 L344.8,353.4 L345.2,353.3 L345.7,353.1 L346.2,352.9 L346.7,352.7 L347.2,352.4 L347.7,352.1 L348.2,351.8 L348.7,351.5 L349.2,351.1 L349.7,350.7 L350.2,350.3 L350.7,349.9 L351.2,349.4 L351.7,349.0 L352.2,348.5 L352.7,347.9 L353.2,347.4 L353.7,346.9 L354.1,346.3 L354.6,345.7 L355.1,345.1 L355.5,344.5 L356.0,343.8 L356.5,343.1 L357.0,342.4 L357.4,341.6 L357.9,340.8 L358.4,340.0 L358.8,339.2 L359.3,338.3 L359.8,337.3 L360.3,336.2 L360.8,335.1 L361.3,333.9 L361.8,332.7 L362.3,331.5 L362.8,330.2 L363.3,329.0 L363.8,327.8 L364.3,326.5 L364.8,325.3 L365.3,324.2 L365.8,323.1 L366.2,322.1 L366.7,321.0 L367.2,320.0 L367.6,318.9 L368.1,317.9 L368.6,316.9 L369.1,315.9 L369.5,314.9 L370.0,313.9 L370.5,313.0 L370.9,312.1 L371.4,311.2 L371.9,310.3 L372.4,309.5 L372.9,308.7 L373.4,307.9 L373.9,307.2 L374.4,306.5 L374.9,305.8 L375.4,305.2 L375.9,304.6 L376.4,304.1 L376.9,303.6 L377.4,303.2 L377.9,302.8 L378.4,302.5 L378.9,302.3 L379.4,302.1 L379.9,301.9 L380.4,301.7 L380.9,301.6 L381.3,301.4 L381.8,301.4 L382.2,301.3 L382.7,301.3 L383.1,301.3 L383.6,301.3 L384.0,301.3 L384.5,301.3 L385.0,301.3 L385.5,301.4 L386.0,301.5 L386.5,301.6 L387.0,301.7 L387.5,301.8 L388.0,301.9 L388.5,302.0 L389.0,302.1 L389.5,302.3 L390.0,302.4 L390.5,302.5 L391.0,302.6 L391.5,302.7 L391.9,302.9 L392.4,303.0 L392.9,303.1 L393.4,303.2 L393.9,303.4 L394.3,303.5 L394.8,303.6 L395.3,303.8 L395.8,303.9 L396.3,304.0 L396.8,304.2 L397.2,304.3 L397.7,304.4 L398.2,304.5 L398.7,304.7 L399.2,304.8 L399.6,304.9 L400.1,305.0 L400.6,305.1 L401.1,305.2 L401.6,305.3 L402.1,305.4 L402.5,305.5 L403.0,305.6 L403.5,305.7 L404.0,305.8 L404.5,305.9 L405.0,306.0 L405.4,306.0 L405.9,306.1 L406.4,306.2 L406.9,306.3 L407.4,306.4 L407.9,306.5 L408.3,306.5 L408.8,306.6 L409.3,306.7 L409.8,306.7 L410.3,306.8 L410.8,306.9 L411.2,306.9 L411.7,307.0 L412.2,307.0 L412.7,307.1 L413.2,307.1 L413.7,307.2 L414.2,307.2 L414.7,307.3 L415.2,307.3 L415.7,307.4 L416.2,307.4 L416.7,307.4 L417.1,307.5 L417.6,307.5 L418.1,307.5 L418.6,307.6 L419.1,307.6 L419.6,307.6 L420.1,307.6 L420.6,307.7 L421.1,307.7 L421.6,307.7 L422.1,307.7 L422.6,307.8 L423.1,307.8 L423.6,307.8 L424.1,307.8 L424.6,307.9 L425.1,307.9 L425.6,307.9 L426.0,307.9 L426.5,307.9 L427.0,308.0 L427.5,308.0 L428.0,308.0 L428.5,308.0 L429.0,308.1 L429.5,308.1 L430.0,308.1 L430.5,308.1 L431.0,308.2 L431.5,308.2 L432.0,308.2 L432.5,308.2 L433.0,308.3 L433.5,308.3 L434.0,308.3 L434.5,308.3 L435.0,308.4 L435.5,308.4 L435.9,308.4 L436.4,308.4 L436.9,308.5 L437.4,308.5 L437.9,308.5 L438.4,308.5 L438.9,308.6 L439.4,308.6 L439.9,308.6 L440.4,308.6 L440.9,308.7 L441.4,308.7 L441.9,308.7 L442.4,308.7 L442.9,308.8 L443.4,308.8 L443.9,308.8 L444.4,308.8 L444.9,308.9 L445.4,308.9 L445.9,308.9 L446.4,308.9 L446.9,308.9 L447.4,309.0 L447.9,309.0 L448.3,309.0 L448.8,309.0 L449.3,309.0 L449.8,309.1 L450.3,309.1 L450.8,309.1 L451.3,309.1 L451.8,309.1 L452.3,309.2 L452.8,309.2 L453.3,309.2 L453.8,309.2 L454.3,309.2 L454.8,309.2 L455.3,309.2 L455.8,309.3 L456.3,309.3 L456.8,309.3 L457.3,309.3 L457.8,309.3 L458.3,309.3 L458.8,309.3 L459.3,309.4 L459.8,309.4 L460.3,309.4 L460.8,309.4 L461.3,309.4 L461.8,309.4 L462.3,309.4 L462.8,309.5 L463.2,309.5 L463.7,309.5 L464.2,309.5 L464.7,309.5 L465.2,309.5 L465.7,309.5 L466.2,309.5 L466.7,309.6 L467.2,309.6 L467.7,309.6 L468.2,309.6 L468.7,309.6 L469.2,309.6 L469.7,309.6 L470.2,309.6 L470.7,309.7 L471.2,309.7 L471.7,309.7 L472.2,309.7 L472.7,309.7 L473.2,309.7 L473.7,309.7 L474.2,309.7 L474.7,309.8 L475.2,309.8 L475.7,309.8 L476.2,309.8 L476.7,309.8 L477.2,309.8 L477.7,309.8 L478.2,309.8 L478.7,309.8 L479.2,309.9 L479.7,309.9 L480.2,309.9 L480.6,309.9 L481.1,309.9 L481.6,309.9 L482.1,309.9 L482.6,309.9 L483.1,309.9 L483.6,310.0 L484.1,310.0 L484.6,310.0 L485.1,310.0 L485.6,310.0 L486.1,310.0 L486.6,310.0 L487.1,310.0 L487.6,310.0 L488.1,310.1 L488.6,310.1 L489.1,310.1 L489.6,310.1 L490.1,310.1 L490.6,310.1 L491.1,310.1 L491.6,310.1 L492.1,310.1 L492.6,310.1 L493.1,310.2 L493.6,310.2 L494.1,310.2 L494.6,310.2 L495.1,310.2 L495.6,310.2 L496.1,310.2 L496.6,310.2 L497.1,310.2 L497.6,310.3 L498.1,310.3 L498.6,310.3 L499.0,310.3 L499.5,310.3 L500.0,310.3 L500.5,310.3 L501.0,310.3 L501.5,310.4 L502.0,310.4 L502.5,310.4 L503.0,310.4 L503.5,310.4 L504.0,310.4 L504.5,310.4 L505.0,310.4 L505.5,310.4 L506.0,310.5 L506.5,310.5 L507.0,310.5 L507.5,310.5 L508.0,310.5 L508.5,310.5 L509.0,310.5 L509.5,310.6 L510.0,310.6 L510.5,310.6 L511.0,310.6 L511.5,310.6 L512.0,310.6 L512.5,310.6 L513.0,310.6 L513.5,310.7 L514.0,310.7 L514.5,310.7 L515.0,310.7 L515.5,310.7 L516.0,310.7 L516.5,310.7 L517.0,310.7 L517.5,310.8 L518.0,310.8 L518.5,310.8 L519.0,310.8 L519.5,310.8 L520.0,310.8 L520.5,310.8 L521.0,310.9 L521.5,310.9 L522.0,310.9 L522.5,310.9 L523.0,310.9 L523.5,310.9 L524.0,310.9 L524.5,311.0 L525.0,311.0 L525.5,311.0 L526.0,311.0 L526.5,311.0 L527.0,311.0 L527.5,311.0 L528.0,311.0 L528.5,311.1 L529.0,311.1 L529.5,311.1 L530.0,311.1 L530.5,311.1 L531.0,311.1 L531.5,311.1 L532.0,311.2 L532.5,311.2 L533.0,311.2 L533.5,311.2 L534.0,311.2 L534.5,311.2 L535.0,311.2 L535.5,311.3 L536.0,311.3 L536.5,311.3 L537.0,311.3 L537.5,311.3 L538.0,311.3 L538.5,311.3 L539.0,311.4 L539.5,311.4 L540.0,311.4 L540.5,311.4 L541.0,311.4 L541.5,311.4 L542.0,311.4 L542.5,311.4 L543.0,311.5 L543.5,311.5 L544.0,311.5 L544.5,311.5 L545.0,311.5 L545.5,311.5 L546.0,311.5 L546.5,311.6 L547.0,311.6 L547.5,311.6 L548.0,311.6" fill="none" stroke="#000" stroke-width="1.75" stroke-linejoin="round" stroke-linecap="butt"/>
<path d="M325.0,14.1 V116.8" stroke="#000" stroke-width="1.6" fill="none"/>
<path d="M321.2,14.7 H325.0" stroke="#000" stroke-width="1.35" fill="none"/>
<path d="M321.2,65.3 H325.0" stroke="#000" stroke-width="1.35" fill="none"/>
<path d="M321.2,116.2 H325.0" stroke="#000" stroke-width="1.35" fill="none"/>
<path d="M326.1,141.1 V237.0" stroke="#000" stroke-width="1.6" fill="none"/>
<path d="M322.3,141.7 H326.1" stroke="#000" stroke-width="1.35" fill="none"/>
<path d="M322.3,189.0 H326.1" stroke="#000" stroke-width="1.35" fill="none"/>
<path d="M322.3,236.4 H326.1" stroke="#000" stroke-width="1.35" fill="none"/>
<path d="M325.9,261.4 V357.5" stroke="#000" stroke-width="1.6" fill="none"/>
<path d="M322.09999999999997,262.0 H325.9" stroke="#000" stroke-width="1.35" fill="none"/>
<path d="M322.09999999999997,309.6 H325.9" stroke="#000" stroke-width="1.35" fill="none"/>
<path d="M322.09999999999997,356.9 H325.9" stroke="#000" stroke-width="1.35" fill="none"/>
<text x="320.3" y="17.7" font-size="11.6" text-anchor="end" stroke="#000" stroke-width="0.28">110</text>
<text x="320.3" y="68.5" font-size="11.6" text-anchor="end" stroke="#000" stroke-width="0.28">35</text>
<text x="320.3" y="119.4" font-size="11.6" text-anchor="end" stroke="#000" stroke-width="0.28">-40</text>
<text x="320.3" y="144.9" font-size="11.6" text-anchor="end" stroke="#000" stroke-width="0.28">3</text>
<text x="320.3" y="192.2" font-size="11.6" text-anchor="end" stroke="#000" stroke-width="0.28">0</text>
<text x="320.3" y="239.6" font-size="11.6" text-anchor="end" stroke="#000" stroke-width="0.28">-3</text>
<text x="320.3" y="265.6" font-size="11.6" text-anchor="end" stroke="#000" stroke-width="0.28">18</text>
<text x="320.3" y="312.9" font-size="11.6" text-anchor="end" stroke="#000" stroke-width="0.28">9</text>
<text x="320.3" y="360.0" font-size="11.6" text-anchor="end" stroke="#000" stroke-width="0.28">0</text>
<text x="294.7" y="65.3" font-size="11.6" text-anchor="middle" stroke="#000" stroke-width="0.28" transform="rotate(-90 294.7 65.3)">Grip Force Rate [N/s]</text>
<text x="294.7" y="188.8" font-size="11.6" text-anchor="middle" stroke="#000" stroke-width="0.28" transform="rotate(-90 294.7 188.8)">Acceleration [m/s<tspan font-size="7.5" dy="-4">2</tspan><tspan dy="4">]</tspan></text>
<text x="294.7" y="310.0" font-size="11.6" text-anchor="middle" stroke="#000" stroke-width="0.28" transform="rotate(-90 294.7 310.0)">Grip Force [N]</text>
<rect x="442.3" y="37.6" width="92.1" height="20.8" fill="#fff" stroke="#000" stroke-width="1.3"/>
<text x="447.1" y="51.9" font-size="11.55" text-anchor="start" stroke="#000" stroke-width="0.28" font-style="italic">self-paced lifting</text>
<path d="M327.3,368.5 H435.4" stroke="#000" stroke-width="1.3" fill="none"/>
<text x="383" y="381.3" font-size="11.6" text-anchor="middle" stroke="#000" stroke-width="0.28">1 s</text>
<path d="M97.5,37 V356" stroke="#000" stroke-width="2" fill="none" opacity="0.18"/>
<path d="M97.5,37 V356" stroke="#000" stroke-width="1.8" stroke-dasharray="1.1 1.02" fill="none" opacity="0.88"/>
<path d="M379.2,62 V341.5" stroke="#000" stroke-width="2" fill="none" opacity="0.18"/>
<path d="M379.2,62 V341.5" stroke="#000" stroke-width="1.8" stroke-dasharray="1.1 1.02" fill="none" opacity="0.88"/>
</svg>
</body></html>
